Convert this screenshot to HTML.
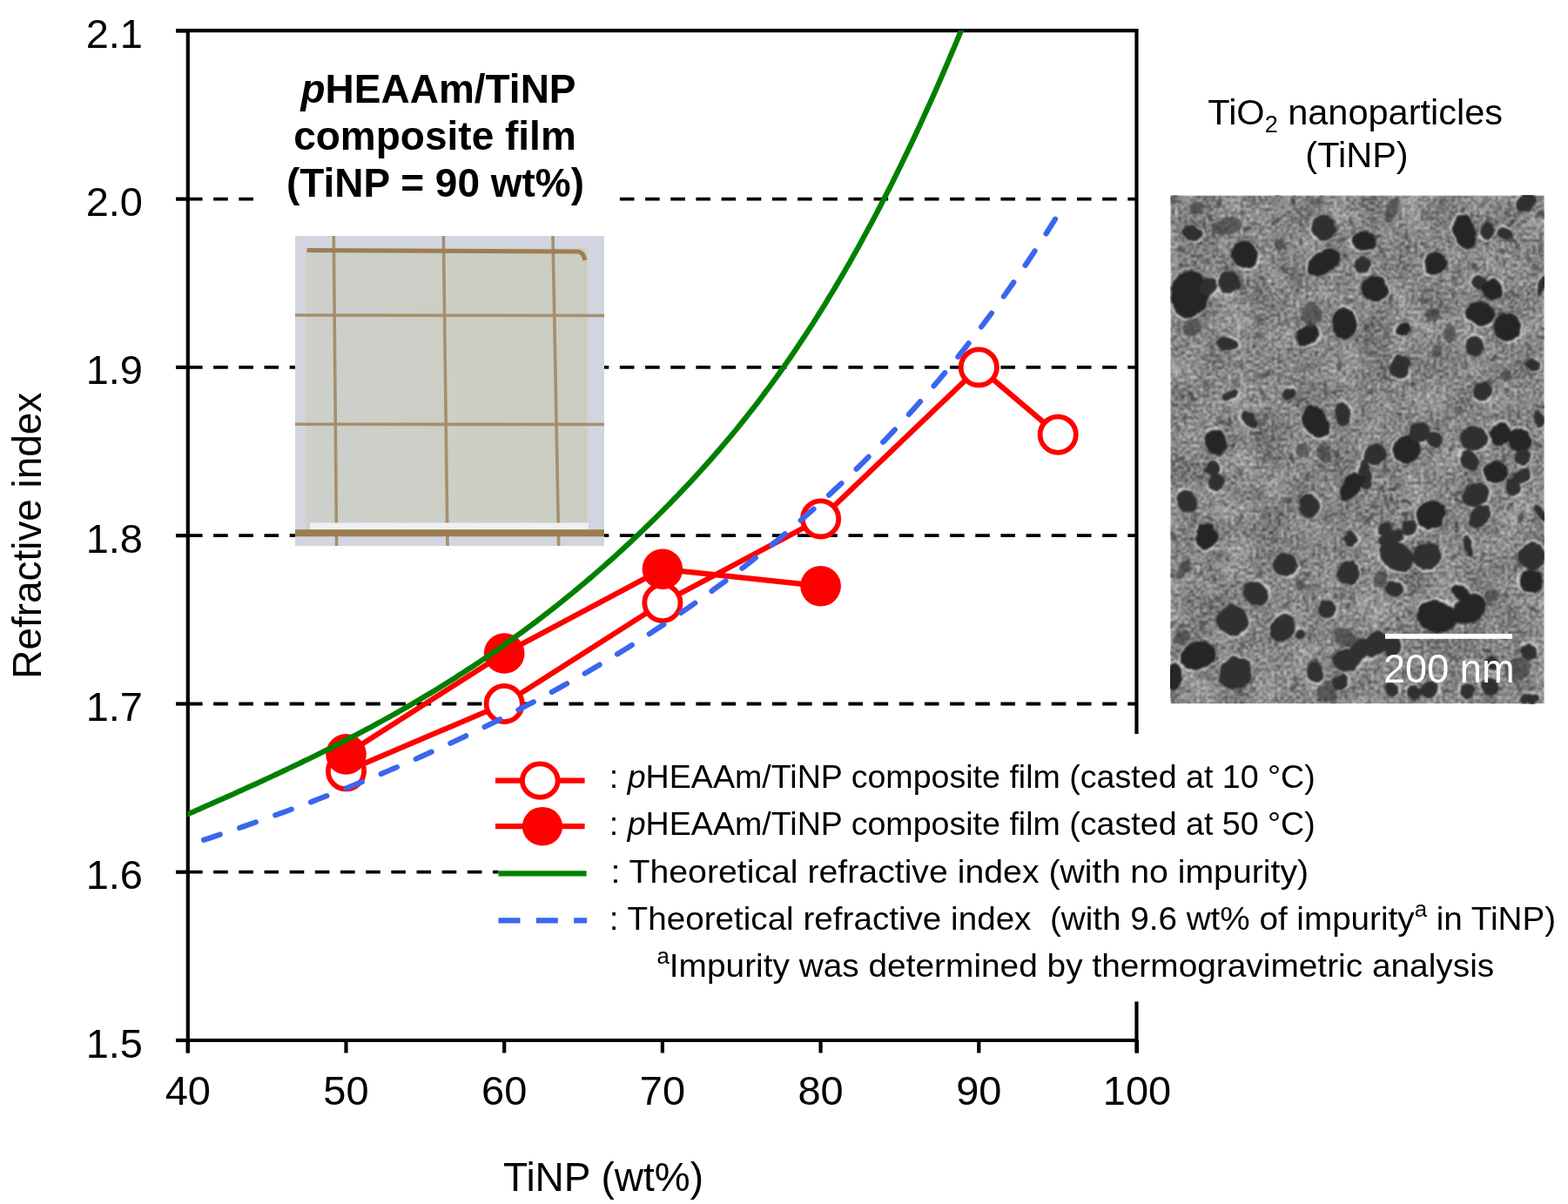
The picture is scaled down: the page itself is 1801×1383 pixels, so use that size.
<!DOCTYPE html>
<html><head><meta charset="utf-8"><title>Refractive index of pHEAAm/TiNP composite films</title>
<style>
html,body{margin:0;padding:0;background:#fff;}
body{width:1801px;height:1383px;overflow:hidden;}
svg{display:block;}
.a{font-family:"Liberation Sans",Arial,sans-serif;}
</style></head><body>
<svg width="1801" height="1383" viewBox="0 0 1801 1383">
<rect width="1801" height="1383" fill="#fff"/>
<g stroke="#000" stroke-width="3.8" stroke-dasharray="16.6 12.57" fill="none"><line x1="216" y1="1001.7" x2="1305.5" y2="1001.7" /><line x1="216" y1="808.5" x2="1305.5" y2="808.5" /><line x1="216" y1="615.2" x2="1305.5" y2="615.2" /><line x1="216" y1="421.9" x2="1305.5" y2="421.9" /><line x1="216" y1="228.6" x2="1305.5" y2="228.6" /></g>
<defs><linearGradient id="filmgrad" x1="0" y1="0" x2="1" y2="0"><stop offset="0" stop-color="#cdd0cb"/><stop offset="1" stop-color="#cacec0"/></linearGradient></defs><g>
<rect x="339" y="271" width="355" height="356" fill="#d2d5e0"/>
<rect x="351.5" y="285" width="323" height="325" rx="7" fill="url(#filmgrad)" stroke="#cfd0c6" stroke-width="1.2"/>
<g stroke="#a68f6c" stroke-width="3.6" fill="none">
<line x1="383.3" y1="271" x2="386.6" y2="627"/>
<line x1="509.4" y1="271" x2="514" y2="627"/>
<line x1="635" y1="271" x2="641.7" y2="627"/>
<line x1="339" y1="362" x2="694" y2="362.5"/>
<line x1="339" y1="487.3" x2="694" y2="487.5"/>
</g>
<rect x="356" y="600.5" width="320" height="8" fill="#eef0f3"/>
<path d="M352.5,287.4 L664,289 Q670,289.5 672,299" stroke="#9c7e54" stroke-width="5" fill="none"/>
<line x1="339" y1="612.3" x2="694" y2="612.3" stroke="#9a7d4d" stroke-width="8"/>
</g>
<rect x="298" y="70" width="405" height="175" fill="#fff"/>
<g class="a" font-weight="bold" font-size="46" text-anchor="middle" fill="#000">
<text x="503.5" y="118"><tspan font-style="italic">p</tspan>HEAAm/TiNP</text>
<text x="499.5" y="172.3">composite film</text>
<text x="500" y="226">(TiNP = 90 wt%)</text>
</g>
<g stroke="#000" stroke-width="4.2" fill="none" stroke-linecap="butt">
<path d="M202,35.2 H1305.5 V1209.5 M215.8,35.2 V1209.5 M202,1195 H1305.5"/>
<line x1="202" y1="1195" x2="215.8" y2="1195"/><line x1="202" y1="1001.7" x2="215.8" y2="1001.7"/><line x1="202" y1="808.5" x2="215.8" y2="808.5"/><line x1="202" y1="615.2" x2="215.8" y2="615.2"/><line x1="202" y1="421.9" x2="215.8" y2="421.9"/><line x1="202" y1="228.6" x2="215.8" y2="228.6"/><line x1="202" y1="35.4" x2="215.8" y2="35.4"/><line x1="215.8" y1="1195" x2="215.8" y2="1209.5"/><line x1="397.5" y1="1195" x2="397.5" y2="1209.5"/><line x1="579.2" y1="1195" x2="579.2" y2="1209.5"/><line x1="760.9" y1="1195" x2="760.9" y2="1209.5"/><line x1="942.6" y1="1195" x2="942.6" y2="1209.5"/><line x1="1124.3" y1="1195" x2="1124.3" y2="1209.5"/><line x1="1306" y1="1195" x2="1306" y2="1209.5"/>
</g>
<g fill="none" stroke="#ff0000" stroke-width="6.2" stroke-linejoin="round">
<polyline points="397.5,885.8 579.2,808.5 760.9,692.5 942.6,595.9 1124.3,421.9 1215.2,499.2"/>
</g>
<g fill="#fff" stroke="#ff0000" stroke-width="5.8"><circle cx="397.5" cy="885.8" r="20.6"/><circle cx="579.2" cy="808.5" r="20.6"/><circle cx="760.9" cy="692.5" r="20.6"/><circle cx="942.6" cy="595.9" r="20.6"/><circle cx="1124.3" cy="421.9" r="20.6"/><circle cx="1215.2" cy="499.2" r="20.6"/></g>
<g fill="none" stroke="#ff0000" stroke-width="6.2" stroke-linejoin="round">
<polyline points="397.5,866.4 579.2,750.5 760.9,653.8 942.6,673.2"/>
</g>
<g fill="#ff0000"><circle cx="397.5" cy="866.4" r="23.3"/><circle cx="579.2" cy="750.5" r="23.3"/><circle cx="760.9" cy="653.8" r="23.3"/><circle cx="942.6" cy="673.2" r="23.3"/></g>
<defs><clipPath id="plotclip"><rect x="215.3" y="35.2" width="1095" height="1160"/></clipPath></defs>
<path clip-path="url(#plotclip)" d="M205,939.8 L209,938.1 L213,936.3 L217.1,934.5 L221.1,932.8 L225.1,931 L229.1,929.3 L233.1,927.5 L237.1,925.7 L241.2,924 L245.2,922.2 L249.2,920.4 L253.2,918.6 L257.2,916.9 L261.2,915.1 L265.3,913.3 L269.3,911.5 L273.3,909.7 L277.3,907.9 L281.3,906 L285.3,904.2 L289.4,902.4 L293.4,900.6 L297.4,898.7 L301.4,896.9 L305.4,895 L309.5,893.2 L313.5,891.3 L317.5,889.4 L321.5,887.5 L325.5,885.6 L329.5,883.7 L333.6,881.8 L337.6,879.9 L341.6,878 L345.6,876.1 L349.6,874.1 L353.6,872.2 L357.7,870.2 L361.7,868.2 L365.7,866.2 L369.7,864.3 L373.7,862.2 L377.8,860.2 L381.8,858.2 L385.8,856.2 L389.8,854.1 L393.8,852.1 L397.8,850 L401.9,847.9 L405.9,845.8 L409.9,843.7 L413.9,841.6 L417.9,839.5 L421.9,837.3 L426,835.2 L430,833 L434,830.8 L438,828.6 L442,826.4 L446,824.2 L450.1,821.9 L454.1,819.7 L458.1,817.4 L462.1,815.1 L466.1,812.8 L470.2,810.5 L474.2,808.1 L478.2,805.8 L482.2,803.4 L486.2,801 L490.2,798.6 L494.3,796.2 L498.3,793.8 L502.3,791.3 L506.3,788.9 L510.3,786.4 L514.3,783.9 L518.4,781.3 L522.4,778.8 L526.4,776.2 L530.4,773.7 L534.4,771.1 L538.4,768.4 L542.5,765.8 L546.5,763.2 L550.5,760.5 L554.5,757.8 L558.5,755.1 L562.6,752.3 L566.6,749.6 L570.6,746.8 L574.6,744 L578.6,741.2 L582.6,738.3 L586.7,735.4 L590.7,732.6 L594.7,729.6 L598.7,726.7 L602.7,723.8 L606.7,720.8 L610.8,717.8 L614.8,714.7 L618.8,711.7 L622.8,708.6 L626.8,705.5 L630.9,702.4 L634.9,699.3 L638.9,696.1 L642.9,692.9 L646.9,689.7 L650.9,686.4 L655,683.1 L659,679.8 L663,676.5 L667,673.2 L671,669.8 L675,666.4 L679.1,663 L683.1,659.5 L687.1,656 L691.1,652.5 L695.1,649 L699.1,645.4 L703.2,641.8 L707.2,638.2 L711.2,634.5 L715.2,630.9 L719.2,627.1 L723.3,623.4 L727.3,619.6 L731.3,615.8 L735.3,612 L739.3,608.1 L743.3,604.3 L747.4,600.3 L751.4,596.4 L755.4,592.4 L759.4,588.4 L763.4,584.4 L767.4,580.3 L771.5,576.2 L775.5,572 L779.5,567.9 L783.5,563.6 L787.5,559.4 L791.6,555.1 L795.6,550.8 L799.6,546.4 L803.6,542 L807.6,537.6 L811.6,533.1 L815.7,528.6 L819.7,524 L823.7,519.4 L827.7,514.7 L831.7,510 L835.7,505.3 L839.8,500.5 L843.8,495.6 L847.8,490.7 L851.8,485.7 L855.8,480.7 L859.8,475.6 L863.9,470.5 L867.9,465.3 L871.9,460.1 L875.9,454.8 L879.9,449.4 L884,444 L888,438.5 L892,433 L896,427.4 L900,421.7 L904,415.9 L908.1,410.1 L912.1,404.3 L916.1,398.3 L920.1,392.3 L924.1,386.2 L928.1,380.1 L932.2,373.9 L936.2,367.6 L940.2,361.2 L944.2,354.8 L948.2,348.3 L952.2,341.7 L956.3,335 L960.3,328.3 L964.3,321.5 L968.3,314.7 L972.3,307.7 L976.4,300.7 L980.4,293.6 L984.4,286.4 L988.4,279.2 L992.4,271.8 L996.4,264.4 L1000.5,256.9 L1004.5,249.4 L1008.5,241.7 L1012.5,234 L1016.5,226.2 L1020.5,218.3 L1024.6,210.3 L1028.6,202.2 L1032.6,194.1 L1036.6,185.9 L1040.6,177.6 L1044.7,169.2 L1048.7,160.7 L1052.7,152.1 L1056.7,143.5 L1060.7,134.7 L1064.7,125.9 L1068.8,117 L1072.8,108 L1076.8,98.9 L1080.8,89.7 L1084.8,80.5 L1088.8,71.1 L1092.9,61.6 L1096.9,52.1 L1100.9,42.5 L1104.9,32.7 L1108.9,22.9" fill="none" stroke="#008000" stroke-width="6.2" stroke-linejoin="round"/>
<path d="M234,964.8 L240.6,962.7 L247.1,960.5 L253.7,958.2 L260.3,956 L266.9,953.8 L273.5,951.5 L280.1,949.2 L286.7,946.9 L293.2,944.6 L299.8,942.3 L306.4,939.9 L313,937.6 L319.6,935.2 L326.2,932.8 L332.7,930.4 L339.3,927.9 L345.9,925.4 L352.5,923 L359.1,920.5 L365.7,917.9 L372.3,915.4 L378.8,912.8 L385.4,910.3 L392,907.7 L398.6,905 L405.2,902.4 L411.8,899.7 L418.4,897 L424.9,894.3 L431.5,891.6 L438.1,888.8 L444.7,886 L451.3,883.2 L457.9,880.4 L464.4,877.6 L471,874.7 L477.6,871.8 L484.2,868.9 L490.8,865.9 L497.4,862.9 L504,859.9 L510.5,856.9 L517.1,853.9 L523.7,850.8 L530.3,847.7 L536.9,844.5 L543.5,841.4 L550.1,838.2 L556.6,835 L563.2,831.7 L569.8,828.4 L576.4,825.1 L583,821.8 L589.6,818.4 L596.2,815 L602.7,811.6 L609.3,808.1 L615.9,804.6 L622.5,801.1 L629.1,797.5 L635.7,793.9 L642.2,790.3 L648.8,786.6 L655.4,782.9 L662,779.2 L668.6,775.4 L675.2,771.6 L681.8,767.7 L688.3,763.8 L694.9,759.9 L701.5,756 L708.1,751.9 L714.7,747.9 L721.3,743.8 L727.9,739.7 L734.4,735.5 L741,731.3 L747.6,727 L754.2,722.7 L760.8,718.4 L767.4,714 L773.9,709.6 L780.5,705.1 L787.1,700.5 L793.7,696 L800.3,691.3 L806.9,686.6 L813.5,681.9 L820,677.1 L826.6,672.3 L833.2,667.4 L839.8,662.4 L846.4,657.4 L853,652.4 L859.6,647.3 L866.1,642.1 L872.7,636.9 L879.3,631.6 L885.9,626.2 L892.5,620.8 L899.1,615.3 L905.7,609.8 L912.2,604.1 L918.8,598.5 L925.4,592.7 L932,586.9 L938.6,581 L945.2,575 L951.7,569 L958.3,562.9 L964.9,556.7 L971.5,550.5 L978.1,544.1 L984.7,537.7 L991.3,531.2 L997.8,524.6 L1004.4,517.9 L1011,511.2 L1017.6,504.3 L1024.2,497.4 L1030.8,490.3 L1037.4,483.2 L1043.9,476 L1050.5,468.6 L1057.1,461.2 L1063.7,453.7 L1070.3,446.1 L1076.9,438.3 L1083.4,430.5 L1090,422.5 L1096.6,414.5 L1103.2,406.3 L1109.8,398 L1116.4,389.5 L1123,381 L1129.5,372.3 L1136.1,363.5 L1142.7,354.6 L1149.3,345.5 L1155.9,336.3 L1162.5,326.9 L1169.1,317.4 L1175.6,307.8 L1182.2,298 L1188.8,288 L1195.4,277.9 L1202,267.7 L1208.6,257.2 L1215.2,246.6" fill="none" stroke="#3a66ee" stroke-width="6.2" stroke-linecap="round" stroke-dasharray="19.7 23.8"/>
<rect x="572.5" y="843" width="753" height="307.5" fill="#fff"/>
<g class="a" font-size="47" fill="#000"><text x="164" y="1214.5" text-anchor="end">1.5</text><text x="164" y="1021.2" text-anchor="end">1.6</text><text x="164" y="828" text-anchor="end">1.7</text><text x="164" y="634.7" text-anchor="end">1.8</text><text x="164" y="441.4" text-anchor="end">1.9</text><text x="164" y="248.1" text-anchor="end">2.0</text><text x="164" y="54.9" text-anchor="end">2.1</text><text x="215.8" y="1268.8" text-anchor="middle">40</text><text x="397.5" y="1268.8" text-anchor="middle">50</text><text x="579.2" y="1268.8" text-anchor="middle">60</text><text x="760.9" y="1268.8" text-anchor="middle">70</text><text x="942.6" y="1268.8" text-anchor="middle">80</text><text x="1124.3" y="1268.8" text-anchor="middle">90</text><text x="1306" y="1268.8" text-anchor="middle">100</text>
<text x="693" y="1368" text-anchor="middle" font-size="46">TiNP (wt%)</text>
<text transform="translate(47.1,615.2) rotate(-90)" text-anchor="middle" font-size="47" textLength="329" lengthAdjust="spacingAndGlyphs">Refractive index</text>
</g>
<g class="a" font-size="41.5" fill="#000" text-anchor="middle">
<text x="1556.7" y="142.6">TiO<tspan font-size="27" dy="9">2</tspan><tspan dy="-9"> nanoparticles</tspan></text>
<text x="1558.5" y="192.4">(TiNP)</text>
</g>
<defs>
<clipPath id="temclip"><rect x="1344.3" y="224.4" width="429.5" height="583.9"/></clipPath>
<filter id="tex" x="0" y="0" width="100%" height="100%" color-interpolation-filters="sRGB">
<feTurbulence type="fractalNoise" baseFrequency="0.28" numOctaves="2" seed="11" result="t1"/>
<feColorMatrix in="t1" type="matrix" values="0.85 0 0 0 -0.025  0.85 0 0 0 -0.025  0.85 0 0 0 -0.025  0 0 0 0 1" result="a"/>
<feTurbulence type="fractalNoise" baseFrequency="0.025" numOctaves="2" seed="5" result="t2"/>
<feColorMatrix in="t2" type="matrix" values="0.26 0 0 0 0  0.26 0 0 0 0  0.26 0 0 0 0  0 0 0 0 1" result="b"/>
<feComposite in="a" in2="b" operator="arithmetic" k1="0" k2="1" k3="1" k4="0"/>
<feGaussianBlur stdDeviation="0.9"/>
</filter>
<filter id="tblur" x="-5%" y="-5%" width="110%" height="110%"><feTurbulence type="fractalNoise" baseFrequency="0.09" numOctaves="2" seed="3" result="dn"/><feDisplacementMap in="SourceGraphic" in2="dn" scale="6" xChannelSelector="R" yChannelSelector="G"/><feGaussianBlur stdDeviation="1.2"/></filter>
<filter id="tblur2" x="-5%" y="-5%" width="110%" height="110%"><feTurbulence type="fractalNoise" baseFrequency="0.09" numOctaves="2" seed="3" result="dn"/><feDisplacementMap in="SourceGraphic" in2="dn" scale="6" xChannelSelector="R" yChannelSelector="G"/><feGaussianBlur stdDeviation="0.9"/></filter>
</defs>
<g clip-path="url(#temclip)">
<rect x="1344.3" y="224.4" width="429.5" height="583.9" fill="#888" filter="url(#tex)"/>
<g filter="url(#tblur2)" opacity="0.7"><ellipse cx="1447.6" cy="566.8" rx="1.5" ry="5.1" fill="#454545" transform="rotate(11 1447.6 566.8)"/><ellipse cx="1662.1" cy="748.6" rx="2.1" ry="7.1" fill="#5a5a5a" transform="rotate(149 1662.1 748.6)"/><ellipse cx="1721.5" cy="300.8" rx="1.4" ry="5.6" fill="#5a5a5a" transform="rotate(140 1721.5 300.8)"/><ellipse cx="1605.7" cy="677.5" rx="1.4" ry="3.7" fill="#3a3a3a" transform="rotate(100 1605.7 677.5)"/><ellipse cx="1484.3" cy="527.1" rx="1.9" ry="6.9" fill="#3a3a3a" transform="rotate(159 1484.3 527.1)"/><ellipse cx="1368.7" cy="336.1" rx="1.3" ry="3.5" fill="#5a5a5a" transform="rotate(101 1368.7 336.1)"/><ellipse cx="1670.7" cy="757.2" rx="1.8" ry="6.1" fill="#454545" transform="rotate(125 1670.7 757.2)"/><ellipse cx="1538.6" cy="535.8" rx="1.8" ry="7.7" fill="#505050" transform="rotate(166 1538.6 535.8)"/><ellipse cx="1727.7" cy="342.7" rx="1.8" ry="5.1" fill="#5a5a5a" transform="rotate(80 1727.7 342.7)"/><ellipse cx="1375.5" cy="364.9" rx="1.3" ry="6.3" fill="#3a3a3a" transform="rotate(161 1375.5 364.9)"/><ellipse cx="1410.6" cy="642.5" rx="2.1" ry="3.7" fill="#454545" transform="rotate(174 1410.6 642.5)"/><ellipse cx="1438.6" cy="780.6" rx="1.7" ry="5.4" fill="#454545" transform="rotate(29 1438.6 780.6)"/><ellipse cx="1529.6" cy="525.5" rx="1.6" ry="4.0" fill="#505050" transform="rotate(17 1529.6 525.5)"/><ellipse cx="1501.5" cy="421.7" rx="1.8" ry="6.5" fill="#5a5a5a" transform="rotate(60 1501.5 421.7)"/><ellipse cx="1612.3" cy="523.5" rx="1.3" ry="7.9" fill="#454545" transform="rotate(175 1612.3 523.5)"/><ellipse cx="1389.3" cy="379.5" rx="1.3" ry="6.9" fill="#505050" transform="rotate(136 1389.3 379.5)"/><ellipse cx="1696.4" cy="720.5" rx="2.1" ry="7.7" fill="#5a5a5a" transform="rotate(27 1696.4 720.5)"/><ellipse cx="1739.1" cy="557.6" rx="2.1" ry="3.4" fill="#3a3a3a" transform="rotate(144 1739.1 557.6)"/><ellipse cx="1423.0" cy="747.2" rx="1.5" ry="3.1" fill="#3a3a3a" transform="rotate(144 1423.0 747.2)"/><ellipse cx="1380.3" cy="724.4" rx="1.3" ry="7.3" fill="#5a5a5a" transform="rotate(2 1380.3 724.4)"/><ellipse cx="1771.4" cy="468.3" rx="2.4" ry="6.1" fill="#3a3a3a" transform="rotate(95 1771.4 468.3)"/><ellipse cx="1446.7" cy="288.3" rx="1.4" ry="3.3" fill="#454545" transform="rotate(168 1446.7 288.3)"/><ellipse cx="1614.3" cy="534.5" rx="1.5" ry="5.2" fill="#454545" transform="rotate(49 1614.3 534.5)"/><ellipse cx="1689.5" cy="805.1" rx="1.2" ry="3.1" fill="#454545" transform="rotate(93 1689.5 805.1)"/><ellipse cx="1449.8" cy="485.4" rx="2.1" ry="6.3" fill="#5a5a5a" transform="rotate(98 1449.8 485.4)"/><ellipse cx="1726.0" cy="791.0" rx="1.6" ry="4.1" fill="#454545" transform="rotate(62 1726.0 791.0)"/><ellipse cx="1701.8" cy="637.1" rx="2.0" ry="5.0" fill="#505050" transform="rotate(177 1701.8 637.1)"/><ellipse cx="1703.8" cy="232.7" rx="2.0" ry="7.4" fill="#5a5a5a" transform="rotate(29 1703.8 232.7)"/><ellipse cx="1380.6" cy="715.6" rx="2.3" ry="6.4" fill="#505050" transform="rotate(108 1380.6 715.6)"/><ellipse cx="1641.8" cy="250.8" rx="1.4" ry="4.3" fill="#3a3a3a" transform="rotate(47 1641.8 250.8)"/><ellipse cx="1757.4" cy="792.3" rx="1.9" ry="4.2" fill="#505050" transform="rotate(39 1757.4 792.3)"/><ellipse cx="1422.9" cy="420.2" rx="1.3" ry="4.4" fill="#454545" transform="rotate(45 1422.9 420.2)"/><ellipse cx="1677.7" cy="277.4" rx="2.3" ry="3.7" fill="#3a3a3a" transform="rotate(71 1677.7 277.4)"/><ellipse cx="1473.0" cy="592.1" rx="1.3" ry="7.8" fill="#454545" transform="rotate(118 1473.0 592.1)"/><ellipse cx="1651.8" cy="737.7" rx="1.7" ry="4.6" fill="#5a5a5a" transform="rotate(27 1651.8 737.7)"/><ellipse cx="1655.3" cy="600.0" rx="1.3" ry="7.2" fill="#5a5a5a" transform="rotate(132 1655.3 600.0)"/><ellipse cx="1693.1" cy="305.7" rx="1.9" ry="5.5" fill="#3a3a3a" transform="rotate(149 1693.1 305.7)"/><ellipse cx="1595.2" cy="745.7" rx="2.1" ry="6.5" fill="#454545" transform="rotate(15 1595.2 745.7)"/><ellipse cx="1362.3" cy="596.4" rx="2.4" ry="4.9" fill="#5a5a5a" transform="rotate(101 1362.3 596.4)"/><ellipse cx="1613.9" cy="590.1" rx="2.1" ry="5.4" fill="#3a3a3a" transform="rotate(82 1613.9 590.1)"/><ellipse cx="1374.4" cy="768.9" rx="2.4" ry="3.5" fill="#3a3a3a" transform="rotate(134 1374.4 768.9)"/><ellipse cx="1547.8" cy="696.9" rx="2.3" ry="4.2" fill="#454545" transform="rotate(42 1547.8 696.9)"/><ellipse cx="1623.4" cy="493.2" rx="2.3" ry="3.4" fill="#505050" transform="rotate(138 1623.4 493.2)"/><ellipse cx="1609.3" cy="599.7" rx="1.3" ry="3.7" fill="#505050" transform="rotate(117 1609.3 599.7)"/><ellipse cx="1641.9" cy="587.1" rx="1.4" ry="5.4" fill="#5a5a5a" transform="rotate(48 1641.9 587.1)"/><ellipse cx="1632.9" cy="628.6" rx="2.1" ry="4.5" fill="#505050" transform="rotate(84 1632.9 628.6)"/><ellipse cx="1544.6" cy="293.6" rx="2.4" ry="4.0" fill="#3a3a3a" transform="rotate(169 1544.6 293.6)"/><ellipse cx="1351.8" cy="492.4" rx="2.3" ry="7.8" fill="#5a5a5a" transform="rotate(179 1351.8 492.4)"/><ellipse cx="1510.5" cy="759.6" rx="2.4" ry="3.4" fill="#3a3a3a" transform="rotate(26 1510.5 759.6)"/><ellipse cx="1569.4" cy="780.7" rx="1.4" ry="7.1" fill="#505050" transform="rotate(160 1569.4 780.7)"/><ellipse cx="1646.4" cy="359.5" rx="2.4" ry="5.4" fill="#3a3a3a" transform="rotate(29 1646.4 359.5)"/><ellipse cx="1752.3" cy="622.4" rx="1.7" ry="6.6" fill="#5a5a5a" transform="rotate(62 1752.3 622.4)"/><ellipse cx="1480.1" cy="715.0" rx="1.2" ry="6.8" fill="#5a5a5a" transform="rotate(22 1480.1 715.0)"/><ellipse cx="1742.2" cy="640.7" rx="2.4" ry="4.4" fill="#505050" transform="rotate(12 1742.2 640.7)"/><ellipse cx="1511.9" cy="732.4" rx="1.3" ry="7.6" fill="#505050" transform="rotate(154 1511.9 732.4)"/><ellipse cx="1464.8" cy="254.5" rx="2.1" ry="6.2" fill="#454545" transform="rotate(45 1464.8 254.5)"/><ellipse cx="1458.4" cy="522.8" rx="1.4" ry="4.9" fill="#5a5a5a" transform="rotate(159 1458.4 522.8)"/><ellipse cx="1693.0" cy="592.8" rx="2.4" ry="7.7" fill="#454545" transform="rotate(130 1693.0 592.8)"/><ellipse cx="1365.5" cy="652.0" rx="1.8" ry="6.8" fill="#505050" transform="rotate(87 1365.5 652.0)"/><ellipse cx="1736.0" cy="545.6" rx="1.4" ry="5.1" fill="#505050" transform="rotate(54 1736.0 545.6)"/><ellipse cx="1661.7" cy="794.5" rx="1.5" ry="6.3" fill="#505050" transform="rotate(87 1661.7 794.5)"/><ellipse cx="1631.6" cy="294.3" rx="2.0" ry="3.4" fill="#5a5a5a" transform="rotate(99 1631.6 294.3)"/><ellipse cx="1538.9" cy="418.7" rx="2.2" ry="5.1" fill="#454545" transform="rotate(44 1538.9 418.7)"/><ellipse cx="1419.3" cy="549.0" rx="1.6" ry="4.8" fill="#454545" transform="rotate(160 1419.3 549.0)"/><ellipse cx="1666.3" cy="465.4" rx="1.7" ry="5.6" fill="#5a5a5a" transform="rotate(49 1666.3 465.4)"/><ellipse cx="1667.3" cy="515.3" rx="1.9" ry="4.8" fill="#454545" transform="rotate(17 1667.3 515.3)"/><ellipse cx="1729.5" cy="448.9" rx="2.0" ry="5.2" fill="#505050" transform="rotate(153 1729.5 448.9)"/><ellipse cx="1719.2" cy="237.1" rx="1.2" ry="6.5" fill="#5a5a5a" transform="rotate(174 1719.2 237.1)"/><ellipse cx="1554.7" cy="267.1" rx="2.4" ry="7.6" fill="#5a5a5a" transform="rotate(175 1554.7 267.1)"/><ellipse cx="1451.0" cy="288.1" rx="1.4" ry="5.6" fill="#3a3a3a" transform="rotate(169 1451.0 288.1)"/><ellipse cx="1654.3" cy="602.4" rx="2.2" ry="5.3" fill="#3a3a3a" transform="rotate(0 1654.3 602.4)"/><ellipse cx="1398.3" cy="556.9" rx="1.2" ry="6.6" fill="#454545" transform="rotate(113 1398.3 556.9)"/><ellipse cx="1571.2" cy="479.8" rx="2.2" ry="3.5" fill="#505050" transform="rotate(94 1571.2 479.8)"/><ellipse cx="1594.7" cy="451.0" rx="1.5" ry="6.0" fill="#3a3a3a" transform="rotate(97 1594.7 451.0)"/><ellipse cx="1772.2" cy="387.1" rx="1.6" ry="7.2" fill="#454545" transform="rotate(86 1772.2 387.1)"/><ellipse cx="1445.1" cy="368.7" rx="2.4" ry="6.5" fill="#505050" transform="rotate(10 1445.1 368.7)"/><ellipse cx="1427.7" cy="741.1" rx="2.0" ry="3.4" fill="#454545" transform="rotate(120 1427.7 741.1)"/><ellipse cx="1741.7" cy="356.8" rx="1.2" ry="4.7" fill="#5a5a5a" transform="rotate(65 1741.7 356.8)"/><ellipse cx="1514.5" cy="228.3" rx="1.6" ry="7.2" fill="#3a3a3a" transform="rotate(37 1514.5 228.3)"/><ellipse cx="1760.9" cy="406.4" rx="2.3" ry="4.2" fill="#454545" transform="rotate(48 1760.9 406.4)"/><ellipse cx="1726.3" cy="288.0" rx="2.0" ry="6.1" fill="#454545" transform="rotate(87 1726.3 288.0)"/><ellipse cx="1735.3" cy="257.3" rx="2.0" ry="7.6" fill="#3a3a3a" transform="rotate(38 1735.3 257.3)"/><ellipse cx="1762.7" cy="307.3" rx="1.3" ry="3.3" fill="#5a5a5a" transform="rotate(81 1762.7 307.3)"/><ellipse cx="1650.1" cy="407.9" rx="1.3" ry="3.4" fill="#454545" transform="rotate(59 1650.1 407.9)"/><ellipse cx="1424.0" cy="770.9" rx="2.2" ry="3.2" fill="#5a5a5a" transform="rotate(151 1424.0 770.9)"/><ellipse cx="1767.4" cy="482.7" rx="1.3" ry="3.4" fill="#3a3a3a" transform="rotate(63 1767.4 482.7)"/><ellipse cx="1754.7" cy="296.6" rx="2.5" ry="4.0" fill="#505050" transform="rotate(138 1754.7 296.6)"/><ellipse cx="1476.9" cy="693.8" rx="1.3" ry="6.5" fill="#454545" transform="rotate(67 1476.9 693.8)"/><ellipse cx="1739.2" cy="337.1" rx="1.7" ry="7.5" fill="#3a3a3a" transform="rotate(114 1739.2 337.1)"/><ellipse cx="1450.8" cy="589.6" rx="1.7" ry="4.9" fill="#5a5a5a" transform="rotate(11 1450.8 589.6)"/><ellipse cx="1739.5" cy="374.5" rx="2.2" ry="7.5" fill="#505050" transform="rotate(65 1739.5 374.5)"/><ellipse cx="1488.2" cy="781.3" rx="1.3" ry="6.7" fill="#505050" transform="rotate(166 1488.2 781.3)"/><ellipse cx="1472.0" cy="645.7" rx="2.0" ry="7.0" fill="#3a3a3a" transform="rotate(4 1472.0 645.7)"/><ellipse cx="1444.7" cy="501.9" rx="2.4" ry="7.8" fill="#5a5a5a" transform="rotate(142 1444.7 501.9)"/><ellipse cx="1736.7" cy="700.2" rx="1.4" ry="5.5" fill="#3a3a3a" transform="rotate(144 1736.7 700.2)"/><ellipse cx="1661.5" cy="704.8" rx="2.2" ry="6.0" fill="#505050" transform="rotate(155 1661.5 704.8)"/><ellipse cx="1542.2" cy="682.1" rx="2.0" ry="5.6" fill="#5a5a5a" transform="rotate(136 1542.2 682.1)"/><ellipse cx="1450.5" cy="262.2" rx="1.2" ry="5.8" fill="#505050" transform="rotate(29 1450.5 262.2)"/><ellipse cx="1527.5" cy="285.8" rx="1.3" ry="6.1" fill="#454545" transform="rotate(17 1527.5 285.8)"/><ellipse cx="1558.4" cy="638.8" rx="1.8" ry="4.2" fill="#5a5a5a" transform="rotate(83 1558.4 638.8)"/><ellipse cx="1727.1" cy="361.6" rx="1.9" ry="6.9" fill="#3a3a3a" transform="rotate(140 1727.1 361.6)"/><ellipse cx="1470.5" cy="387.5" rx="1.5" ry="4.3" fill="#505050" transform="rotate(36 1470.5 387.5)"/><ellipse cx="1450.6" cy="367.7" rx="1.4" ry="7.4" fill="#454545" transform="rotate(59 1450.6 367.7)"/><ellipse cx="1514.4" cy="803.9" rx="1.9" ry="4.2" fill="#3a3a3a" transform="rotate(118 1514.4 803.9)"/><ellipse cx="1769.9" cy="284.2" rx="1.8" ry="7.1" fill="#5a5a5a" transform="rotate(165 1769.9 284.2)"/><ellipse cx="1361.6" cy="395.9" rx="1.4" ry="3.9" fill="#454545" transform="rotate(167 1361.6 395.9)"/><ellipse cx="1504.2" cy="730.1" rx="1.8" ry="4.3" fill="#3a3a3a" transform="rotate(19 1504.2 730.1)"/><ellipse cx="1600.3" cy="586.4" rx="1.5" ry="4.8" fill="#454545" transform="rotate(8 1600.3 586.4)"/><ellipse cx="1773.7" cy="246.7" rx="2.2" ry="7.6" fill="#3a3a3a" transform="rotate(147 1773.7 246.7)"/><ellipse cx="1520.0" cy="441.5" rx="2.0" ry="3.4" fill="#3a3a3a" transform="rotate(143 1520.0 441.5)"/><ellipse cx="1579.7" cy="261.3" rx="1.3" ry="5.0" fill="#454545" transform="rotate(115 1579.7 261.3)"/><ellipse cx="1383.5" cy="320.0" rx="2.1" ry="5.0" fill="#505050" transform="rotate(120 1383.5 320.0)"/><ellipse cx="1523.8" cy="254.4" rx="2.2" ry="7.4" fill="#5a5a5a" transform="rotate(75 1523.8 254.4)"/><ellipse cx="1715.5" cy="806.3" rx="1.7" ry="4.0" fill="#5a5a5a" transform="rotate(37 1715.5 806.3)"/><ellipse cx="1346.8" cy="750.9" rx="1.8" ry="7.1" fill="#5a5a5a" transform="rotate(104 1346.8 750.9)"/><ellipse cx="1501.0" cy="675.8" rx="1.4" ry="3.3" fill="#454545" transform="rotate(115 1501.0 675.8)"/><ellipse cx="1735.1" cy="276.4" rx="2.0" ry="4.9" fill="#454545" transform="rotate(26 1735.1 276.4)"/><ellipse cx="1466.0" cy="528.7" rx="2.4" ry="3.5" fill="#5a5a5a" transform="rotate(136 1466.0 528.7)"/><ellipse cx="1684.5" cy="694.3" rx="1.6" ry="7.2" fill="#3a3a3a" transform="rotate(176 1684.5 694.3)"/><ellipse cx="1551.6" cy="255.6" rx="2.4" ry="4.9" fill="#454545" transform="rotate(115 1551.6 255.6)"/><ellipse cx="1712.2" cy="587.0" rx="2.0" ry="4.0" fill="#5a5a5a" transform="rotate(33 1712.2 587.0)"/><ellipse cx="1438.0" cy="457.8" rx="1.9" ry="4.9" fill="#3a3a3a" transform="rotate(27 1438.0 457.8)"/><ellipse cx="1761.2" cy="700.7" rx="1.5" ry="7.4" fill="#3a3a3a" transform="rotate(120 1761.2 700.7)"/><ellipse cx="1483.5" cy="452.0" rx="1.8" ry="7.2" fill="#505050" transform="rotate(117 1483.5 452.0)"/><ellipse cx="1476.7" cy="369.9" rx="1.7" ry="4.8" fill="#5a5a5a" transform="rotate(32 1476.7 369.9)"/><ellipse cx="1345.8" cy="800.2" rx="1.8" ry="5.2" fill="#5a5a5a" transform="rotate(151 1345.8 800.2)"/><ellipse cx="1692.4" cy="458.2" rx="1.3" ry="4.8" fill="#505050" transform="rotate(17 1692.4 458.2)"/><ellipse cx="1534.1" cy="522.3" rx="1.3" ry="6.2" fill="#3a3a3a" transform="rotate(166 1534.1 522.3)"/><ellipse cx="1479.0" cy="645.0" rx="1.3" ry="6.8" fill="#5a5a5a" transform="rotate(117 1479.0 645.0)"/><ellipse cx="1681.1" cy="239.5" rx="1.3" ry="6.1" fill="#3a3a3a" transform="rotate(35 1681.1 239.5)"/><ellipse cx="1766.0" cy="511.6" rx="2.4" ry="7.6" fill="#454545" transform="rotate(124 1766.0 511.6)"/><ellipse cx="1654.0" cy="353.5" rx="2.3" ry="6.1" fill="#505050" transform="rotate(29 1654.0 353.5)"/><ellipse cx="1729.4" cy="385.0" rx="2.3" ry="3.7" fill="#5a5a5a" transform="rotate(37 1729.4 385.0)"/><ellipse cx="1457.2" cy="519.9" rx="1.6" ry="3.2" fill="#454545" transform="rotate(73 1457.2 519.9)"/><ellipse cx="1617.7" cy="386.8" rx="1.6" ry="4.9" fill="#505050" transform="rotate(21 1617.7 386.8)"/><ellipse cx="1572.2" cy="595.9" rx="1.7" ry="7.4" fill="#3a3a3a" transform="rotate(45 1572.2 595.9)"/><ellipse cx="1574.4" cy="724.6" rx="2.2" ry="4.9" fill="#5a5a5a" transform="rotate(178 1574.4 724.6)"/><ellipse cx="1592.3" cy="434.8" rx="2.2" ry="5.2" fill="#454545" transform="rotate(111 1592.3 434.8)"/><ellipse cx="1755.8" cy="397.5" rx="1.9" ry="4.6" fill="#505050" transform="rotate(132 1755.8 397.5)"/><ellipse cx="1665.2" cy="353.8" rx="1.6" ry="6.1" fill="#5a5a5a" transform="rotate(92 1665.2 353.8)"/><ellipse cx="1728.9" cy="301.5" rx="1.5" ry="6.3" fill="#3a3a3a" transform="rotate(10 1728.9 301.5)"/><ellipse cx="1587.9" cy="401.8" rx="1.9" ry="5.7" fill="#5a5a5a" transform="rotate(105 1587.9 401.8)"/><ellipse cx="1597.3" cy="343.6" rx="2.0" ry="5.4" fill="#454545" transform="rotate(3 1597.3 343.6)"/><ellipse cx="1688.5" cy="637.5" rx="1.8" ry="3.3" fill="#454545" transform="rotate(157 1688.5 637.5)"/><ellipse cx="1680.2" cy="459.1" rx="1.5" ry="3.1" fill="#505050" transform="rotate(107 1680.2 459.1)"/><ellipse cx="1592.8" cy="575.8" rx="1.9" ry="5.5" fill="#454545" transform="rotate(163 1592.8 575.8)"/><ellipse cx="1363.2" cy="534.8" rx="1.7" ry="4.2" fill="#3a3a3a" transform="rotate(164 1363.2 534.8)"/><ellipse cx="1389.4" cy="582.1" rx="2.1" ry="4.0" fill="#5a5a5a" transform="rotate(36 1389.4 582.1)"/><ellipse cx="1605.5" cy="520.4" rx="2.0" ry="7.1" fill="#454545" transform="rotate(92 1605.5 520.4)"/><ellipse cx="1371.7" cy="589.9" rx="2.5" ry="6.6" fill="#5a5a5a" transform="rotate(129 1371.7 589.9)"/><ellipse cx="1347.0" cy="717.5" rx="2.2" ry="5.3" fill="#5a5a5a" transform="rotate(32 1347.0 717.5)"/><ellipse cx="1772.3" cy="377.0" rx="2.0" ry="3.6" fill="#505050" transform="rotate(128 1772.3 377.0)"/><ellipse cx="1458.5" cy="547.8" rx="1.8" ry="6.9" fill="#505050" transform="rotate(53 1458.5 547.8)"/><ellipse cx="1743.1" cy="746.5" rx="1.3" ry="5.5" fill="#454545" transform="rotate(47 1743.1 746.5)"/><ellipse cx="1445.7" cy="658.8" rx="2.4" ry="6.7" fill="#505050" transform="rotate(35 1445.7 658.8)"/><ellipse cx="1511.2" cy="575.5" rx="1.7" ry="7.3" fill="#5a5a5a" transform="rotate(85 1511.2 575.5)"/><ellipse cx="1572.2" cy="228.1" rx="1.2" ry="7.8" fill="#454545" transform="rotate(103 1572.2 228.1)"/><ellipse cx="1476.5" cy="348.2" rx="2.0" ry="3.4" fill="#454545" transform="rotate(26 1476.5 348.2)"/><ellipse cx="1355.9" cy="286.7" rx="2.4" ry="4.7" fill="#454545" transform="rotate(126 1355.9 286.7)"/><ellipse cx="1357.6" cy="305.2" rx="2.0" ry="3.2" fill="#3a3a3a" transform="rotate(133 1357.6 305.2)"/><ellipse cx="1372.5" cy="569.2" rx="1.7" ry="7.1" fill="#3a3a3a" transform="rotate(158 1372.5 569.2)"/><ellipse cx="1668.9" cy="639.7" rx="1.7" ry="4.2" fill="#454545" transform="rotate(20 1668.9 639.7)"/><ellipse cx="1359.1" cy="719.4" rx="2.3" ry="6.2" fill="#505050" transform="rotate(86 1359.1 719.4)"/><ellipse cx="1401.3" cy="686.8" rx="2.0" ry="4.5" fill="#505050" transform="rotate(76 1401.3 686.8)"/><ellipse cx="1353.3" cy="374.3" rx="1.6" ry="6.6" fill="#505050" transform="rotate(164 1353.3 374.3)"/><ellipse cx="1674.7" cy="575.9" rx="1.8" ry="4.4" fill="#3a3a3a" transform="rotate(142 1674.7 575.9)"/><ellipse cx="1357.7" cy="527.2" rx="1.3" ry="5.3" fill="#3a3a3a" transform="rotate(97 1357.7 527.2)"/><ellipse cx="1437.3" cy="727.9" rx="1.3" ry="7.1" fill="#454545" transform="rotate(78 1437.3 727.9)"/><ellipse cx="1569.2" cy="392.8" rx="2.2" ry="3.3" fill="#505050" transform="rotate(88 1569.2 392.8)"/><ellipse cx="1555.4" cy="689.6" rx="1.4" ry="5.5" fill="#505050" transform="rotate(172 1555.4 689.6)"/><ellipse cx="1565.6" cy="561.9" rx="1.4" ry="7.1" fill="#454545" transform="rotate(90 1565.6 561.9)"/><ellipse cx="1391.5" cy="596.1" rx="1.3" ry="6.9" fill="#3a3a3a" transform="rotate(113 1391.5 596.1)"/><ellipse cx="1497.0" cy="458.7" rx="1.7" ry="7.5" fill="#3a3a3a" transform="rotate(76 1497.0 458.7)"/><ellipse cx="1621.7" cy="441.6" rx="1.6" ry="5.1" fill="#454545" transform="rotate(68 1621.7 441.6)"/><ellipse cx="1724.0" cy="360.8" rx="1.8" ry="5.7" fill="#3a3a3a" transform="rotate(63 1724.0 360.8)"/><ellipse cx="1484.6" cy="315.1" rx="2.3" ry="6.3" fill="#505050" transform="rotate(31 1484.6 315.1)"/><ellipse cx="1532.8" cy="676.0" rx="2.0" ry="3.6" fill="#5a5a5a" transform="rotate(116 1532.8 676.0)"/><ellipse cx="1643.5" cy="520.8" rx="1.5" ry="6.8" fill="#454545" transform="rotate(130 1643.5 520.8)"/><ellipse cx="1763.0" cy="646.7" rx="2.0" ry="4.7" fill="#454545" transform="rotate(59 1763.0 646.7)"/><ellipse cx="1425.6" cy="793.8" rx="2.1" ry="3.5" fill="#3a3a3a" transform="rotate(35 1425.6 793.8)"/><ellipse cx="1409.1" cy="311.0" rx="1.6" ry="4.5" fill="#505050" transform="rotate(35 1409.1 311.0)"/><ellipse cx="1618.3" cy="286.8" rx="1.5" ry="4.9" fill="#3a3a3a" transform="rotate(2 1618.3 286.8)"/><ellipse cx="1711.2" cy="479.3" rx="1.5" ry="7.9" fill="#505050" transform="rotate(83 1711.2 479.3)"/><ellipse cx="1405.2" cy="576.9" rx="1.7" ry="6.7" fill="#5a5a5a" transform="rotate(126 1405.2 576.9)"/><ellipse cx="1596.6" cy="602.3" rx="2.3" ry="6.3" fill="#454545" transform="rotate(122 1596.6 602.3)"/><ellipse cx="1619.8" cy="489.4" rx="1.6" ry="6.1" fill="#3a3a3a" transform="rotate(161 1619.8 489.4)"/><ellipse cx="1448.4" cy="458.0" rx="2.1" ry="3.8" fill="#5a5a5a" transform="rotate(87 1448.4 458.0)"/><ellipse cx="1352.7" cy="725.7" rx="1.9" ry="6.3" fill="#454545" transform="rotate(161 1352.7 725.7)"/><ellipse cx="1485.2" cy="230.6" rx="2.3" ry="7.5" fill="#3a3a3a" transform="rotate(7 1485.2 230.6)"/><ellipse cx="1577.7" cy="318.3" rx="2.2" ry="7.7" fill="#505050" transform="rotate(18 1577.7 318.3)"/><ellipse cx="1591.1" cy="540.3" rx="2.1" ry="5.6" fill="#505050" transform="rotate(94 1591.1 540.3)"/><ellipse cx="1520.5" cy="777.9" rx="1.5" ry="6.4" fill="#5a5a5a" transform="rotate(92 1520.5 777.9)"/><ellipse cx="1744.9" cy="650.1" rx="2.0" ry="6.2" fill="#505050" transform="rotate(49 1744.9 650.1)"/><ellipse cx="1516.0" cy="232.2" rx="1.7" ry="5.1" fill="#505050" transform="rotate(104 1516.0 232.2)"/><ellipse cx="1391.2" cy="401.6" rx="1.7" ry="7.8" fill="#454545" transform="rotate(179 1391.2 401.6)"/><ellipse cx="1757.0" cy="494.2" rx="1.4" ry="7.6" fill="#3a3a3a" transform="rotate(146 1757.0 494.2)"/><ellipse cx="1616.7" cy="498.3" rx="1.9" ry="4.1" fill="#454545" transform="rotate(64 1616.7 498.3)"/><ellipse cx="1618.7" cy="702.5" rx="2.3" ry="5.3" fill="#505050" transform="rotate(137 1618.7 702.5)"/><ellipse cx="1623.3" cy="679.8" rx="1.8" ry="6.9" fill="#454545" transform="rotate(48 1623.3 679.8)"/><ellipse cx="1505.9" cy="372.4" rx="1.8" ry="3.9" fill="#3a3a3a" transform="rotate(145 1505.9 372.4)"/><ellipse cx="1687.4" cy="433.4" rx="2.1" ry="4.6" fill="#5a5a5a" transform="rotate(77 1687.4 433.4)"/><ellipse cx="1618.0" cy="609.3" rx="1.7" ry="7.6" fill="#5a5a5a" transform="rotate(10 1618.0 609.3)"/><ellipse cx="1699.9" cy="753.3" rx="2.2" ry="3.7" fill="#505050" transform="rotate(114 1699.9 753.3)"/><ellipse cx="1350.7" cy="231.1" rx="2.4" ry="6.3" fill="#505050" transform="rotate(109 1350.7 231.1)"/><ellipse cx="1592.8" cy="723.2" rx="1.4" ry="5.3" fill="#454545" transform="rotate(38 1592.8 723.2)"/><ellipse cx="1517.2" cy="536.5" rx="2.0" ry="6.4" fill="#3a3a3a" transform="rotate(120 1517.2 536.5)"/><ellipse cx="1728.2" cy="684.6" rx="2.3" ry="4.0" fill="#454545" transform="rotate(96 1728.2 684.6)"/><ellipse cx="1663.0" cy="480.5" rx="2.3" ry="5.8" fill="#505050" transform="rotate(75 1663.0 480.5)"/><ellipse cx="1699.5" cy="500.7" rx="1.9" ry="5.4" fill="#454545" transform="rotate(126 1699.5 500.7)"/><ellipse cx="1450.2" cy="320.5" rx="2.0" ry="6.7" fill="#454545" transform="rotate(151 1450.2 320.5)"/><ellipse cx="1545.3" cy="552.9" rx="2.1" ry="7.2" fill="#505050" transform="rotate(77 1545.3 552.9)"/><ellipse cx="1773.8" cy="619.1" rx="1.4" ry="4.8" fill="#3a3a3a" transform="rotate(4 1773.8 619.1)"/><ellipse cx="1364.0" cy="654.5" rx="2.5" ry="7.0" fill="#3a3a3a" transform="rotate(92 1364.0 654.5)"/><ellipse cx="1552.5" cy="748.5" rx="1.2" ry="6.6" fill="#454545" transform="rotate(61 1552.5 748.5)"/><ellipse cx="1714.4" cy="438.2" rx="1.8" ry="5.6" fill="#454545" transform="rotate(51 1714.4 438.2)"/><ellipse cx="1491.2" cy="371.3" rx="1.3" ry="4.4" fill="#505050" transform="rotate(149 1491.2 371.3)"/><ellipse cx="1517.7" cy="518.5" rx="1.6" ry="5.5" fill="#454545" transform="rotate(118 1517.7 518.5)"/><ellipse cx="1684.4" cy="417.6" rx="1.6" ry="4.5" fill="#3a3a3a" transform="rotate(141 1684.4 417.6)"/><ellipse cx="1361.5" cy="646.4" rx="2.4" ry="5.7" fill="#3a3a3a" transform="rotate(72 1361.5 646.4)"/><ellipse cx="1390.9" cy="251.5" rx="2.3" ry="5.4" fill="#3a3a3a" transform="rotate(142 1390.9 251.5)"/><ellipse cx="1735.1" cy="581.6" rx="2.0" ry="6.1" fill="#3a3a3a" transform="rotate(38 1735.1 581.6)"/><ellipse cx="1630.8" cy="491.8" rx="2.2" ry="3.5" fill="#454545" transform="rotate(156 1630.8 491.8)"/><ellipse cx="1525.4" cy="283.1" rx="2.4" ry="3.1" fill="#454545" transform="rotate(142 1525.4 283.1)"/><ellipse cx="1585.7" cy="375.0" rx="1.6" ry="5.1" fill="#505050" transform="rotate(4 1585.7 375.0)"/><ellipse cx="1587.5" cy="562.1" rx="2.4" ry="5.5" fill="#3a3a3a" transform="rotate(148 1587.5 562.1)"/><ellipse cx="1676.6" cy="470.3" rx="2.1" ry="5.0" fill="#3a3a3a" transform="rotate(3 1676.6 470.3)"/><ellipse cx="1510.6" cy="570.1" rx="2.4" ry="7.9" fill="#5a5a5a" transform="rotate(139 1510.6 570.1)"/><ellipse cx="1580.0" cy="272.8" rx="1.8" ry="7.5" fill="#3a3a3a" transform="rotate(77 1580.0 272.8)"/><ellipse cx="1348.3" cy="615.2" rx="2.5" ry="7.3" fill="#454545" transform="rotate(157 1348.3 615.2)"/><ellipse cx="1399.7" cy="234.8" rx="2.1" ry="4.2" fill="#454545" transform="rotate(166 1399.7 234.8)"/><ellipse cx="1501.4" cy="660.7" rx="2.1" ry="3.7" fill="#3a3a3a" transform="rotate(53 1501.4 660.7)"/><ellipse cx="1583.7" cy="515.2" rx="2.1" ry="7.5" fill="#3a3a3a" transform="rotate(129 1583.7 515.2)"/><ellipse cx="1349.2" cy="233.0" rx="2.0" ry="7.1" fill="#3a3a3a" transform="rotate(70 1349.2 233.0)"/><ellipse cx="1478.5" cy="574.8" rx="2.4" ry="7.2" fill="#3a3a3a" transform="rotate(57 1478.5 574.8)"/><ellipse cx="1751.8" cy="649.3" rx="1.8" ry="3.8" fill="#3a3a3a" transform="rotate(65 1751.8 649.3)"/><ellipse cx="1621.3" cy="592.1" rx="1.7" ry="4.9" fill="#5a5a5a" transform="rotate(170 1621.3 592.1)"/><ellipse cx="1681.3" cy="555.4" rx="1.6" ry="3.3" fill="#505050" transform="rotate(157 1681.3 555.4)"/><ellipse cx="1656.0" cy="233.5" rx="1.4" ry="7.2" fill="#5a5a5a" transform="rotate(176 1656.0 233.5)"/><ellipse cx="1450.0" cy="450.6" rx="1.7" ry="6.9" fill="#454545" transform="rotate(145 1450.0 450.6)"/><ellipse cx="1466.0" cy="225.4" rx="1.5" ry="5.1" fill="#3a3a3a" transform="rotate(52 1466.0 225.4)"/><ellipse cx="1404.7" cy="744.4" rx="2.5" ry="3.7" fill="#5a5a5a" transform="rotate(62 1404.7 744.4)"/><ellipse cx="1380.8" cy="547.7" rx="2.2" ry="4.0" fill="#454545" transform="rotate(56 1380.8 547.7)"/><ellipse cx="1369.0" cy="455.3" rx="2.1" ry="7.6" fill="#3a3a3a" transform="rotate(142 1369.0 455.3)"/><ellipse cx="1541.7" cy="275.6" rx="2.2" ry="6.9" fill="#454545" transform="rotate(72 1541.7 275.6)"/><ellipse cx="1568.1" cy="375.9" rx="2.3" ry="4.6" fill="#454545" transform="rotate(34 1568.1 375.9)"/><ellipse cx="1426.9" cy="329.9" rx="2.1" ry="4.8" fill="#505050" transform="rotate(72 1426.9 329.9)"/><ellipse cx="1566.4" cy="311.4" rx="1.3" ry="8.0" fill="#505050" transform="rotate(156 1566.4 311.4)"/><ellipse cx="1503.9" cy="495.0" rx="1.3" ry="4.6" fill="#3a3a3a" transform="rotate(62 1503.9 495.0)"/><ellipse cx="1567.4" cy="236.4" rx="1.2" ry="8.0" fill="#5a5a5a" transform="rotate(106 1567.4 236.4)"/><ellipse cx="1436.0" cy="764.8" rx="1.6" ry="3.5" fill="#5a5a5a" transform="rotate(138 1436.0 764.8)"/><ellipse cx="1696.0" cy="787.0" rx="1.5" ry="3.2" fill="#454545" transform="rotate(179 1696.0 787.0)"/><ellipse cx="1506.7" cy="240.5" rx="1.2" ry="4.8" fill="#5a5a5a" transform="rotate(88 1506.7 240.5)"/><ellipse cx="1707.5" cy="746.9" rx="2.3" ry="6.2" fill="#3a3a3a" transform="rotate(127 1707.5 746.9)"/><ellipse cx="1382.9" cy="410.5" rx="1.5" ry="3.4" fill="#5a5a5a" transform="rotate(33 1382.9 410.5)"/><ellipse cx="1709.2" cy="441.0" rx="1.5" ry="6.6" fill="#454545" transform="rotate(7 1709.2 441.0)"/><ellipse cx="1454.2" cy="429.9" rx="2.4" ry="7.5" fill="#3a3a3a" transform="rotate(46 1454.2 429.9)"/><ellipse cx="1564.8" cy="656.2" rx="2.2" ry="5.4" fill="#3a3a3a" transform="rotate(26 1564.8 656.2)"/><ellipse cx="1668.6" cy="772.9" rx="2.1" ry="4.5" fill="#5a5a5a" transform="rotate(136 1668.6 772.9)"/><ellipse cx="1389.6" cy="413.5" rx="1.5" ry="3.6" fill="#5a5a5a" transform="rotate(68 1389.6 413.5)"/><ellipse cx="1533.9" cy="695.9" rx="2.4" ry="7.5" fill="#5a5a5a" transform="rotate(129 1533.9 695.9)"/><ellipse cx="1428.1" cy="245.4" rx="2.4" ry="4.1" fill="#505050" transform="rotate(160 1428.1 245.4)"/><ellipse cx="1404.3" cy="485.5" rx="1.3" ry="7.6" fill="#3a3a3a" transform="rotate(113 1404.3 485.5)"/><ellipse cx="1538.6" cy="422.8" rx="2.3" ry="5.4" fill="#505050" transform="rotate(26 1538.6 422.8)"/><ellipse cx="1439.5" cy="257.5" rx="2.1" ry="5.8" fill="#454545" transform="rotate(79 1439.5 257.5)"/><ellipse cx="1408.5" cy="468.6" rx="1.5" ry="3.1" fill="#505050" transform="rotate(60 1408.5 468.6)"/><ellipse cx="1416.4" cy="511.1" rx="1.6" ry="7.5" fill="#3a3a3a" transform="rotate(28 1416.4 511.1)"/><ellipse cx="1564.8" cy="592.8" rx="2.2" ry="7.6" fill="#5a5a5a" transform="rotate(150 1564.8 592.8)"/><ellipse cx="1395.5" cy="665.2" rx="2.5" ry="5.2" fill="#505050" transform="rotate(180 1395.5 665.2)"/><ellipse cx="1741.6" cy="281.4" rx="1.6" ry="7.5" fill="#3a3a3a" transform="rotate(150 1741.6 281.4)"/><ellipse cx="1764.6" cy="308.7" rx="2.0" ry="5.2" fill="#505050" transform="rotate(92 1764.6 308.7)"/><ellipse cx="1534.6" cy="685.4" rx="2.4" ry="4.4" fill="#505050" transform="rotate(78 1534.6 685.4)"/><ellipse cx="1736.0" cy="351.8" rx="1.9" ry="3.7" fill="#454545" transform="rotate(94 1736.0 351.8)"/><ellipse cx="1443.3" cy="326.9" rx="2.0" ry="7.1" fill="#5a5a5a" transform="rotate(137 1443.3 326.9)"/><ellipse cx="1419.6" cy="304.4" rx="2.1" ry="6.1" fill="#454545" transform="rotate(105 1419.6 304.4)"/><ellipse cx="1431.2" cy="262.8" rx="2.2" ry="5.0" fill="#3a3a3a" transform="rotate(93 1431.2 262.8)"/><ellipse cx="1493.6" cy="388.9" rx="2.0" ry="7.7" fill="#3a3a3a" transform="rotate(3 1493.6 388.9)"/><ellipse cx="1735.2" cy="502.7" rx="2.3" ry="4.3" fill="#454545" transform="rotate(101 1735.2 502.7)"/><ellipse cx="1767.7" cy="245.8" rx="2.1" ry="5.9" fill="#3a3a3a" transform="rotate(64 1767.7 245.8)"/><ellipse cx="1744.6" cy="790.0" rx="1.3" ry="4.8" fill="#454545" transform="rotate(147 1744.6 790.0)"/><ellipse cx="1716.0" cy="411.8" rx="2.1" ry="4.9" fill="#3a3a3a" transform="rotate(52 1716.0 411.8)"/><ellipse cx="1390.6" cy="651.2" rx="1.8" ry="3.1" fill="#454545" transform="rotate(4 1390.6 651.2)"/><ellipse cx="1759.8" cy="355.0" rx="1.4" ry="3.5" fill="#505050" transform="rotate(100 1759.8 355.0)"/><ellipse cx="1754.6" cy="235.8" rx="2.4" ry="6.7" fill="#505050" transform="rotate(3 1754.6 235.8)"/><ellipse cx="1601.7" cy="561.0" rx="1.9" ry="6.5" fill="#3a3a3a" transform="rotate(63 1601.7 561.0)"/><ellipse cx="1384.6" cy="328.9" rx="1.6" ry="5.3" fill="#505050" transform="rotate(20 1384.6 328.9)"/><ellipse cx="1396.5" cy="740.8" rx="1.9" ry="4.1" fill="#454545" transform="rotate(26 1396.5 740.8)"/><ellipse cx="1590.3" cy="660.3" rx="1.4" ry="7.1" fill="#5a5a5a" transform="rotate(125 1590.3 660.3)"/><ellipse cx="1600.7" cy="576.4" rx="1.2" ry="7.9" fill="#3a3a3a" transform="rotate(140 1600.7 576.4)"/><ellipse cx="1489.7" cy="364.8" rx="1.6" ry="5.2" fill="#505050" transform="rotate(147 1489.7 364.8)"/><ellipse cx="1708.4" cy="255.7" rx="1.9" ry="7.8" fill="#505050" transform="rotate(45 1708.4 255.7)"/><ellipse cx="1525.6" cy="593.8" rx="1.7" ry="5.7" fill="#3a3a3a" transform="rotate(58 1525.6 593.8)"/><ellipse cx="1430.5" cy="615.1" rx="1.5" ry="5.1" fill="#5a5a5a" transform="rotate(140 1430.5 615.1)"/><ellipse cx="1746.7" cy="594.1" rx="2.3" ry="7.4" fill="#3a3a3a" transform="rotate(6 1746.7 594.1)"/><ellipse cx="1619.9" cy="379.6" rx="2.1" ry="4.4" fill="#3a3a3a" transform="rotate(112 1619.9 379.6)"/><ellipse cx="1451.9" cy="528.2" rx="1.8" ry="7.8" fill="#505050" transform="rotate(20 1451.9 528.2)"/><ellipse cx="1493.6" cy="321.9" rx="1.3" ry="7.8" fill="#505050" transform="rotate(15 1493.6 321.9)"/><ellipse cx="1597.8" cy="768.6" rx="1.8" ry="5.6" fill="#505050" transform="rotate(165 1597.8 768.6)"/><ellipse cx="1592.3" cy="384.5" rx="2.2" ry="6.7" fill="#505050" transform="rotate(151 1592.3 384.5)"/><ellipse cx="1606.3" cy="557.3" rx="2.0" ry="4.0" fill="#505050" transform="rotate(83 1606.3 557.3)"/><ellipse cx="1579.7" cy="582.2" rx="1.8" ry="4.6" fill="#454545" transform="rotate(60 1579.7 582.2)"/><ellipse cx="1425.4" cy="543.2" rx="2.5" ry="5.0" fill="#505050" transform="rotate(29 1425.4 543.2)"/><ellipse cx="1753.2" cy="413.6" rx="1.6" ry="4.3" fill="#454545" transform="rotate(53 1753.2 413.6)"/><ellipse cx="1675.9" cy="317.0" rx="1.3" ry="7.4" fill="#5a5a5a" transform="rotate(118 1675.9 317.0)"/><ellipse cx="1566.3" cy="711.6" rx="1.7" ry="6.8" fill="#454545" transform="rotate(178 1566.3 711.6)"/><ellipse cx="1635.4" cy="769.7" rx="1.7" ry="6.3" fill="#454545" transform="rotate(122 1635.4 769.7)"/><ellipse cx="1609.0" cy="720.7" rx="2.3" ry="5.6" fill="#5a5a5a" transform="rotate(48 1609.0 720.7)"/><ellipse cx="1615.2" cy="593.5" rx="2.1" ry="5.1" fill="#3a3a3a" transform="rotate(1 1615.2 593.5)"/><ellipse cx="1673.2" cy="566.5" rx="1.8" ry="7.8" fill="#454545" transform="rotate(75 1673.2 566.5)"/><ellipse cx="1680.9" cy="734.0" rx="2.0" ry="4.9" fill="#5a5a5a" transform="rotate(125 1680.9 734.0)"/><ellipse cx="1468.0" cy="430.3" rx="1.7" ry="5.6" fill="#5a5a5a" transform="rotate(117 1468.0 430.3)"/><ellipse cx="1347.2" cy="659.9" rx="2.5" ry="4.9" fill="#505050" transform="rotate(33 1347.2 659.9)"/><ellipse cx="1474.9" cy="309.1" rx="1.9" ry="5.9" fill="#3a3a3a" transform="rotate(148 1474.9 309.1)"/><ellipse cx="1486.1" cy="790.2" rx="2.0" ry="4.2" fill="#505050" transform="rotate(37 1486.1 790.2)"/><ellipse cx="1527.5" cy="756.1" rx="1.2" ry="3.2" fill="#5a5a5a" transform="rotate(54 1527.5 756.1)"/><ellipse cx="1574.7" cy="406.8" rx="2.0" ry="5.2" fill="#5a5a5a" transform="rotate(70 1574.7 406.8)"/><ellipse cx="1497.9" cy="571.7" rx="1.7" ry="7.7" fill="#3a3a3a" transform="rotate(95 1497.9 571.7)"/><ellipse cx="1386.8" cy="443.0" rx="1.7" ry="5.8" fill="#454545" transform="rotate(158 1386.8 443.0)"/><ellipse cx="1758.5" cy="508.6" rx="1.8" ry="6.1" fill="#505050" transform="rotate(124 1758.5 508.6)"/><ellipse cx="1664.9" cy="278.3" rx="1.7" ry="4.8" fill="#3a3a3a" transform="rotate(149 1664.9 278.3)"/><ellipse cx="1564.5" cy="288.9" rx="2.4" ry="6.4" fill="#5a5a5a" transform="rotate(114 1564.5 288.9)"/><ellipse cx="1569.4" cy="701.0" rx="1.5" ry="7.5" fill="#5a5a5a" transform="rotate(33 1569.4 701.0)"/><ellipse cx="1614.9" cy="576.6" rx="1.7" ry="8.0" fill="#3a3a3a" transform="rotate(125 1614.9 576.6)"/><ellipse cx="1348.9" cy="226.0" rx="2.1" ry="5.8" fill="#505050" transform="rotate(72 1348.9 226.0)"/><ellipse cx="1386.6" cy="233.4" rx="1.2" ry="3.9" fill="#505050" transform="rotate(157 1386.6 233.4)"/><ellipse cx="1728.9" cy="524.7" rx="1.4" ry="4.0" fill="#3a3a3a" transform="rotate(26 1728.9 524.7)"/><ellipse cx="1567.0" cy="521.9" rx="1.2" ry="3.4" fill="#5a5a5a" transform="rotate(148 1567.0 521.9)"/><ellipse cx="1607.6" cy="695.4" rx="1.3" ry="3.1" fill="#505050" transform="rotate(26 1607.6 695.4)"/><ellipse cx="1446.6" cy="385.2" rx="1.2" ry="6.1" fill="#3a3a3a" transform="rotate(63 1446.6 385.2)"/><ellipse cx="1537.5" cy="449.6" rx="1.3" ry="7.5" fill="#3a3a3a" transform="rotate(79 1537.5 449.6)"/><ellipse cx="1610.7" cy="370.0" rx="1.3" ry="7.7" fill="#454545" transform="rotate(57 1610.7 370.0)"/><ellipse cx="1730.4" cy="700.8" rx="1.6" ry="6.0" fill="#5a5a5a" transform="rotate(176 1730.4 700.8)"/><ellipse cx="1373.3" cy="619.9" rx="2.1" ry="5.9" fill="#5a5a5a" transform="rotate(56 1373.3 619.9)"/><ellipse cx="1720.2" cy="507.2" rx="2.2" ry="4.2" fill="#454545" transform="rotate(31 1720.2 507.2)"/><ellipse cx="1507.1" cy="228.9" rx="2.3" ry="5.0" fill="#505050" transform="rotate(21 1507.1 228.9)"/><ellipse cx="1573.5" cy="449.6" rx="1.7" ry="3.3" fill="#3a3a3a" transform="rotate(76 1573.5 449.6)"/><ellipse cx="1736.4" cy="547.8" rx="1.7" ry="5.3" fill="#505050" transform="rotate(43 1736.4 547.8)"/><ellipse cx="1359.3" cy="612.3" rx="1.6" ry="3.8" fill="#454545" transform="rotate(17 1359.3 612.3)"/><ellipse cx="1460.1" cy="712.0" rx="1.4" ry="5.2" fill="#454545" transform="rotate(29 1460.1 712.0)"/><ellipse cx="1495.9" cy="646.2" rx="1.7" ry="7.8" fill="#454545" transform="rotate(54 1495.9 646.2)"/><ellipse cx="1548.7" cy="343.8" rx="2.3" ry="6.4" fill="#505050" transform="rotate(107 1548.7 343.8)"/><ellipse cx="1533.4" cy="802.4" rx="1.9" ry="5.0" fill="#454545" transform="rotate(23 1533.4 802.4)"/><ellipse cx="1666.7" cy="620.2" rx="1.3" ry="7.3" fill="#5a5a5a" transform="rotate(5 1666.7 620.2)"/><ellipse cx="1652.8" cy="309.1" rx="1.2" ry="6.6" fill="#454545" transform="rotate(140 1652.8 309.1)"/><ellipse cx="1443.8" cy="334.4" rx="2.4" ry="3.3" fill="#505050" transform="rotate(145 1443.8 334.4)"/><ellipse cx="1670.1" cy="337.0" rx="2.1" ry="3.4" fill="#505050" transform="rotate(23 1670.1 337.0)"/><ellipse cx="1652.1" cy="389.3" rx="1.7" ry="7.5" fill="#454545" transform="rotate(169 1652.1 389.3)"/><ellipse cx="1420.1" cy="438.4" rx="2.2" ry="6.5" fill="#5a5a5a" transform="rotate(5 1420.1 438.4)"/><ellipse cx="1646.6" cy="494.5" rx="2.5" ry="5.0" fill="#3a3a3a" transform="rotate(33 1646.6 494.5)"/><ellipse cx="1393.8" cy="757.3" rx="2.2" ry="6.6" fill="#3a3a3a" transform="rotate(73 1393.8 757.3)"/><ellipse cx="1605.7" cy="475.9" rx="2.2" ry="3.8" fill="#3a3a3a" transform="rotate(99 1605.7 475.9)"/><ellipse cx="1614.7" cy="774.2" rx="1.9" ry="4.1" fill="#5a5a5a" transform="rotate(129 1614.7 774.2)"/><ellipse cx="1453.7" cy="478.4" rx="2.1" ry="4.7" fill="#3a3a3a" transform="rotate(20 1453.7 478.4)"/><ellipse cx="1672.3" cy="607.1" rx="2.4" ry="7.4" fill="#3a3a3a" transform="rotate(175 1672.3 607.1)"/><ellipse cx="1636.8" cy="246.1" rx="1.6" ry="6.9" fill="#505050" transform="rotate(135 1636.8 246.1)"/><ellipse cx="1381.3" cy="630.0" rx="1.7" ry="6.7" fill="#454545" transform="rotate(51 1381.3 630.0)"/><ellipse cx="1382.9" cy="777.0" rx="1.8" ry="7.7" fill="#5a5a5a" transform="rotate(92 1382.9 777.0)"/><ellipse cx="1634.9" cy="344.7" rx="2.1" ry="7.2" fill="#454545" transform="rotate(88 1634.9 344.7)"/><ellipse cx="1425.6" cy="780.4" rx="2.3" ry="5.8" fill="#454545" transform="rotate(98 1425.6 780.4)"/><ellipse cx="1760.7" cy="596.6" rx="1.9" ry="4.2" fill="#3a3a3a" transform="rotate(30 1760.7 596.6)"/><ellipse cx="1493.4" cy="278.4" rx="2.0" ry="3.7" fill="#5a5a5a" transform="rotate(121 1493.4 278.4)"/><ellipse cx="1446.5" cy="365.5" rx="1.9" ry="5.2" fill="#505050" transform="rotate(126 1446.5 365.5)"/><ellipse cx="1401.6" cy="637.6" rx="2.0" ry="4.2" fill="#3a3a3a" transform="rotate(99 1401.6 637.6)"/><ellipse cx="1670.9" cy="323.2" rx="2.1" ry="6.0" fill="#5a5a5a" transform="rotate(151 1670.9 323.2)"/><ellipse cx="1518.7" cy="344.9" rx="2.1" ry="3.1" fill="#5a5a5a" transform="rotate(37 1518.7 344.9)"/><ellipse cx="1370.2" cy="388.4" rx="1.5" ry="6.5" fill="#5a5a5a" transform="rotate(173 1370.2 388.4)"/><ellipse cx="1413.6" cy="484.3" rx="1.9" ry="4.4" fill="#3a3a3a" transform="rotate(8 1413.6 484.3)"/><ellipse cx="1545.5" cy="796.5" rx="1.8" ry="6.7" fill="#505050" transform="rotate(176 1545.5 796.5)"/><ellipse cx="1586.4" cy="287.9" rx="1.8" ry="5.2" fill="#454545" transform="rotate(141 1586.4 287.9)"/><ellipse cx="1482.5" cy="434.2" rx="1.3" ry="4.4" fill="#505050" transform="rotate(118 1482.5 434.2)"/><ellipse cx="1377.9" cy="660.8" rx="1.2" ry="5.0" fill="#454545" transform="rotate(53 1377.9 660.8)"/><ellipse cx="1424.1" cy="597.0" rx="2.3" ry="7.6" fill="#454545" transform="rotate(18 1424.1 597.0)"/><ellipse cx="1653.0" cy="405.6" rx="2.0" ry="4.9" fill="#505050" transform="rotate(58 1653.0 405.6)"/><ellipse cx="1502.6" cy="546.2" rx="1.7" ry="7.2" fill="#454545" transform="rotate(10 1502.6 546.2)"/><ellipse cx="1390.4" cy="693.1" rx="2.4" ry="8.0" fill="#5a5a5a" transform="rotate(163 1390.4 693.1)"/><ellipse cx="1750.1" cy="513.1" rx="1.8" ry="3.8" fill="#505050" transform="rotate(108 1750.1 513.1)"/><ellipse cx="1613.4" cy="307.2" rx="1.5" ry="3.7" fill="#5a5a5a" transform="rotate(16 1613.4 307.2)"/><ellipse cx="1361.5" cy="481.0" rx="1.4" ry="6.6" fill="#3a3a3a" transform="rotate(6 1361.5 481.0)"/><ellipse cx="1606.6" cy="711.1" rx="1.9" ry="3.7" fill="#3a3a3a" transform="rotate(119 1606.6 711.1)"/><ellipse cx="1565.3" cy="470.3" rx="1.6" ry="5.2" fill="#454545" transform="rotate(163 1565.3 470.3)"/><ellipse cx="1414.9" cy="397.1" rx="1.8" ry="5.8" fill="#505050" transform="rotate(102 1414.9 397.1)"/></g>
<g fill="#e4e4e4" opacity="0.75" filter="url(#tblur2)"><ellipse cx="1430.9" cy="293.9" rx="15.9" ry="16.8" transform="rotate(-14 1430.9 293.9)"/><ellipse cx="1370.7" cy="268.6" rx="12.9" ry="9.6" transform="rotate(12 1370.7 268.6)"/><ellipse cx="1364.7" cy="339.5" rx="22.8" ry="28.3" transform="rotate(3 1364.7 339.5)"/><ellipse cx="1518.8" cy="300.9" rx="21.7" ry="14.0" transform="rotate(-35 1518.8 300.9)"/><ellipse cx="1519.0" cy="262.8" rx="14.7" ry="15.9" transform="rotate(-37 1519.0 262.8)"/><ellipse cx="1503.7" cy="386.0" rx="15.9" ry="11.1" transform="rotate(-34 1503.7 386.0)"/><ellipse cx="1544.9" cy="370.1" rx="15.1" ry="19.1" transform="rotate(-6 1544.9 370.1)"/><ellipse cx="1411.3" cy="394.4" rx="14.0" ry="8.5" transform="rotate(10 1411.3 394.4)"/><ellipse cx="1410.7" cy="325.3" rx="14.0" ry="14.0" transform="rotate(6 1410.7 325.3)"/><ellipse cx="1389.6" cy="330.6" rx="9.6" ry="11.8" transform="rotate(38 1389.6 330.6)"/><ellipse cx="1565.2" cy="277.8" rx="15.1" ry="11.8" transform="rotate(11 1565.2 277.8)"/><ellipse cx="1580.7" cy="332.2" rx="16.2" ry="16.2" transform="rotate(4 1580.7 332.2)"/><ellipse cx="1565.5" cy="305.8" rx="10.7" ry="9.6" transform="rotate(-35 1565.5 305.8)"/><ellipse cx="1647.2" cy="303.3" rx="14.0" ry="14.0" transform="rotate(14 1647.2 303.3)"/><ellipse cx="1680.6" cy="265.3" rx="14.0" ry="20.6" transform="rotate(-15 1680.6 265.3)"/><ellipse cx="1707.7" cy="266.7" rx="9.6" ry="10.7" transform="rotate(-4 1707.7 266.7)"/><ellipse cx="1728.0" cy="267.3" rx="10.7" ry="8.0" transform="rotate(24 1728.0 267.3)"/><ellipse cx="1697.8" cy="323.2" rx="9.6" ry="9.6" transform="rotate(-20 1697.8 323.2)"/><ellipse cx="1715.5" cy="331.4" rx="12.9" ry="12.9" transform="rotate(2 1715.5 331.4)"/><ellipse cx="1699.1" cy="362.2" rx="18.4" ry="14.0" transform="rotate(18 1699.1 362.2)"/><ellipse cx="1733.0" cy="377.6" rx="16.8" ry="16.8" transform="rotate(38 1733.0 377.6)"/><ellipse cx="1693.9" cy="395.9" rx="11.3" ry="12.9" transform="rotate(-7 1693.9 395.9)"/><ellipse cx="1610.1" cy="377.7" rx="9.6" ry="8.0" transform="rotate(-28 1610.1 377.7)"/><ellipse cx="1752.1" cy="231.3" rx="14.0" ry="10.7" transform="rotate(-37 1752.1 231.3)"/><ellipse cx="1768.8" cy="327.4" rx="5.2" ry="11.8" transform="rotate(16 1768.8 327.4)"/><ellipse cx="1608.1" cy="417.2" rx="11.8" ry="9.6" transform="rotate(6 1608.1 417.2)"/><ellipse cx="1395.1" cy="506.4" rx="14.0" ry="16.2" transform="rotate(-35 1395.1 506.4)"/><ellipse cx="1394.8" cy="537.9" rx="9.6" ry="9.6" transform="rotate(12 1394.8 537.9)"/><ellipse cx="1396.0" cy="555.9" rx="9.6" ry="11.3" transform="rotate(26 1396.0 555.9)"/><ellipse cx="1362.1" cy="573.8" rx="12.9" ry="14.0" transform="rotate(-9 1362.1 573.8)"/><ellipse cx="1433.6" cy="482.0" rx="8.5" ry="12.9" transform="rotate(-38 1433.6 482.0)"/><ellipse cx="1415.3" cy="454.6" rx="10.7" ry="6.3" transform="rotate(-27 1415.3 454.6)"/><ellipse cx="1480.5" cy="451.3" rx="9.6" ry="8.0" transform="rotate(-35 1480.5 451.3)"/><ellipse cx="1510.7" cy="486.4" rx="15.1" ry="20.6" transform="rotate(-30 1510.7 486.4)"/><ellipse cx="1543.2" cy="474.3" rx="9.6" ry="15.1" transform="rotate(-9 1543.2 474.3)"/><ellipse cx="1505.7" cy="580.0" rx="13.5" ry="15.1" transform="rotate(4 1505.7 580.0)"/><ellipse cx="1552.5" cy="558.1" rx="11.3" ry="18.4" transform="rotate(26 1552.5 558.1)"/><ellipse cx="1383.1" cy="609.8" rx="11.8" ry="9.6" transform="rotate(-18 1383.1 609.8)"/><ellipse cx="1608.3" cy="425.3" rx="12.9" ry="11.8" transform="rotate(37 1608.3 425.3)"/><ellipse cx="1702.7" cy="451.7" rx="12.9" ry="11.3" transform="rotate(-26 1702.7 451.7)"/><ellipse cx="1613.7" cy="516.4" rx="16.8" ry="16.8" transform="rotate(-21 1613.7 516.4)"/><ellipse cx="1630.0" cy="498.0" rx="13.5" ry="12.9" transform="rotate(7 1630.0 498.0)"/><ellipse cx="1577.9" cy="523.0" rx="14.0" ry="12.9" transform="rotate(-40 1577.9 523.0)"/><ellipse cx="1566.2" cy="544.4" rx="8.5" ry="18.4" transform="rotate(-10 1566.2 544.4)"/><ellipse cx="1557.2" cy="557.7" rx="6.3" ry="17.3" transform="rotate(36 1557.2 557.7)"/><ellipse cx="1646.1" cy="503.4" rx="10.2" ry="10.2" transform="rotate(1 1646.1 503.4)"/><ellipse cx="1694.3" cy="503.9" rx="16.8" ry="15.1" transform="rotate(14 1694.3 503.9)"/><ellipse cx="1723.2" cy="496.9" rx="12.9" ry="14.0" transform="rotate(32 1723.2 496.9)"/><ellipse cx="1746.5" cy="504.2" rx="15.1" ry="14.0" transform="rotate(30 1746.5 504.2)"/><ellipse cx="1716.8" cy="543.5" rx="15.1" ry="13.5" transform="rotate(-9 1716.8 543.5)"/><ellipse cx="1686.8" cy="527.8" rx="11.3" ry="14.0" transform="rotate(-32 1686.8 527.8)"/><ellipse cx="1697.1" cy="569.1" rx="16.8" ry="14.0" transform="rotate(-35 1697.1 569.1)"/><ellipse cx="1748.4" cy="548.3" rx="11.8" ry="8.5" transform="rotate(-23 1748.4 548.3)"/><ellipse cx="1739.1" cy="560.2" rx="9.6" ry="11.3" transform="rotate(-13 1739.1 560.2)"/><ellipse cx="1750.0" cy="526.5" rx="10.7" ry="9.6" transform="rotate(-40 1750.0 526.5)"/><ellipse cx="1641.9" cy="593.0" rx="18.4" ry="16.8" transform="rotate(-32 1641.9 593.0)"/><ellipse cx="1701.0" cy="591.5" rx="15.1" ry="11.3" transform="rotate(-38 1701.0 591.5)"/><ellipse cx="1619.8" cy="607.5" rx="10.7" ry="9.6" transform="rotate(9 1619.8 607.5)"/><ellipse cx="1590.1" cy="609.0" rx="9.6" ry="8.5" transform="rotate(-20 1590.1 609.0)"/><ellipse cx="1769.0" cy="482.9" rx="7.4" ry="10.7" transform="rotate(-11 1769.0 482.9)"/><ellipse cx="1762.4" cy="419.2" rx="9.6" ry="7.4" transform="rotate(28 1762.4 419.2)"/><ellipse cx="1770.6" cy="589.8" rx="6.3" ry="11.8" transform="rotate(-33 1770.6 589.8)"/><ellipse cx="1386.1" cy="620.7" rx="14.0" ry="12.9" transform="rotate(-13 1386.1 620.7)"/><ellipse cx="1416.3" cy="714.4" rx="19.5" ry="18.4" transform="rotate(26 1416.3 714.4)"/><ellipse cx="1444.6" cy="681.7" rx="14.0" ry="16.8" transform="rotate(-38 1444.6 681.7)"/><ellipse cx="1477.2" cy="650.6" rx="15.1" ry="14.0" transform="rotate(2 1477.2 650.6)"/><ellipse cx="1525.7" cy="700.0" rx="11.8" ry="11.3" transform="rotate(3 1525.7 700.0)"/><ellipse cx="1550.3" cy="657.4" rx="13.5" ry="15.1" transform="rotate(2 1550.3 657.4)"/><ellipse cx="1472.4" cy="719.5" rx="14.0" ry="18.4" transform="rotate(29 1472.4 719.5)"/><ellipse cx="1374.9" cy="754.7" rx="21.7" ry="16.8" transform="rotate(-19 1374.9 754.7)"/><ellipse cx="1419.8" cy="771.4" rx="20.6" ry="19.0" transform="rotate(-27 1419.8 771.4)"/><ellipse cx="1349.1" cy="775.8" rx="9.6" ry="17.3" transform="rotate(3 1349.1 775.8)"/><ellipse cx="1511.0" cy="774.0" rx="10.7" ry="12.9" transform="rotate(-14 1511.0 774.0)"/><ellipse cx="1547.4" cy="758.8" rx="16.2" ry="14.0" transform="rotate(25 1547.4 758.8)"/><ellipse cx="1553.2" cy="619.1" rx="8.5" ry="9.6" transform="rotate(-12 1553.2 619.1)"/><ellipse cx="1492.6" cy="726.7" rx="7.4" ry="6.3" transform="rotate(-19 1492.6 726.7)"/><ellipse cx="1541.6" cy="783.4" rx="9.6" ry="10.7" transform="rotate(35 1541.6 783.4)"/><ellipse cx="1602.9" cy="640.4" rx="21.7" ry="16.8" transform="rotate(36 1602.9 640.4)"/><ellipse cx="1639.2" cy="640.9" rx="16.8" ry="16.8" transform="rotate(-22 1639.2 640.9)"/><ellipse cx="1599.0" cy="620.6" rx="16.2" ry="9.6" transform="rotate(-24 1599.0 620.6)"/><ellipse cx="1602.9" cy="675.3" rx="11.8" ry="9.6" transform="rotate(10 1602.9 675.3)"/><ellipse cx="1651.1" cy="706.5" rx="25.0" ry="19.0" transform="rotate(12 1651.1 706.5)"/><ellipse cx="1687.0" cy="698.0" rx="20.6" ry="16.8" transform="rotate(-33 1687.0 698.0)"/><ellipse cx="1678.3" cy="678.9" rx="13.5" ry="8.5" transform="rotate(33 1678.3 678.9)"/><ellipse cx="1757.0" cy="668.2" rx="15.1" ry="14.0" transform="rotate(20 1757.0 668.2)"/><ellipse cx="1759.5" cy="637.0" rx="16.8" ry="16.8" transform="rotate(-26 1759.5 637.0)"/><ellipse cx="1687.2" cy="625.5" rx="6.3" ry="12.9" transform="rotate(-13 1687.2 625.5)"/><ellipse cx="1578.0" cy="741.4" rx="14.0" ry="16.8" transform="rotate(38 1578.0 741.4)"/><ellipse cx="1600.3" cy="740.9" rx="11.8" ry="14.0" transform="rotate(-8 1600.3 740.9)"/><ellipse cx="1561.8" cy="749.2" rx="9.6" ry="16.2" transform="rotate(18 1561.8 749.2)"/><ellipse cx="1756.8" cy="746.9" rx="11.8" ry="9.6" transform="rotate(32 1756.8 746.9)"/><ellipse cx="1710.1" cy="787.6" rx="11.8" ry="10.7" transform="rotate(38 1710.1 787.6)"/><ellipse cx="1683.3" cy="793.1" rx="9.6" ry="9.6" transform="rotate(-12 1683.3 793.1)"/><ellipse cx="1643.8" cy="792.4" rx="11.8" ry="10.7" transform="rotate(-30 1643.8 792.4)"/><ellipse cx="1623.2" cy="793.5" rx="9.6" ry="9.6" transform="rotate(38 1623.2 793.5)"/><ellipse cx="1600.2" cy="791.4" rx="8.5" ry="9.6" transform="rotate(2 1600.2 791.4)"/><ellipse cx="1758.9" cy="801.0" rx="11.8" ry="7.4" transform="rotate(-5 1758.9 801.0)"/><ellipse cx="1714.5" cy="763.8" rx="9.6" ry="8.5" transform="rotate(26 1714.5 763.8)"/><ellipse cx="1555.9" cy="655.3" rx="5.2" ry="11.8" transform="rotate(-20 1555.9 655.3)"/></g>
<g filter="url(#tblur)" opacity="0.92"><ellipse cx="1429.7" cy="292.3" rx="15.1" ry="16.0" fill="#141414" transform="rotate(-14 1429.7 292.3)"/><ellipse cx="1368.9" cy="267.7" rx="12.1" ry="8.8" fill="#242424" transform="rotate(12 1368.9 267.7)"/><ellipse cx="1366.0" cy="338.0" rx="22.0" ry="27.5" fill="#141414" transform="rotate(3 1366.0 338.0)"/><ellipse cx="1520.8" cy="301.0" rx="20.9" ry="13.2" fill="#141414" transform="rotate(-35 1520.8 301.0)"/><ellipse cx="1520.8" cy="262.0" rx="13.9" ry="15.1" fill="#242424" transform="rotate(-37 1520.8 262.0)"/><ellipse cx="1502.0" cy="384.9" rx="15.1" ry="10.3" fill="#141414" transform="rotate(-34 1502.0 384.9)"/><ellipse cx="1544.0" cy="371.9" rx="14.3" ry="18.3" fill="#141414" transform="rotate(-6 1544.0 371.9)"/><ellipse cx="1506.3" cy="361.7" rx="13.2" ry="12.7" fill="#3a3a3a" fill-opacity="0.7" transform="rotate(-30 1506.3 361.7)"/><ellipse cx="1409.4" cy="395.0" rx="13.2" ry="7.7" fill="#242424" transform="rotate(10 1409.4 395.0)"/><ellipse cx="1412.3" cy="324.1" rx="13.2" ry="13.2" fill="#242424" transform="rotate(6 1412.3 324.1)"/><ellipse cx="1387.7" cy="330.0" rx="8.8" ry="11.0" fill="#242424" transform="rotate(38 1387.7 330.0)"/><ellipse cx="1470.0" cy="280.7" rx="6.6" ry="6.6" fill="#3a3a3a" fill-opacity="0.7" transform="rotate(29 1470.0 280.7)"/><ellipse cx="1374.7" cy="238.8" rx="8.8" ry="6.6" fill="#3a3a3a" fill-opacity="0.7" transform="rotate(-28 1374.7 238.8)"/><ellipse cx="1409.4" cy="260.5" rx="17.6" ry="9.9" fill="#3a3a3a" fill-opacity="0.7" transform="rotate(-15 1409.4 260.5)"/><ellipse cx="1369.0" cy="376.0" rx="11.0" ry="9.9" fill="#3a3a3a" fill-opacity="0.7" transform="rotate(-26 1369.0 376.0)"/><ellipse cx="1566.6" cy="276.4" rx="14.3" ry="11.0" fill="#141414" transform="rotate(11 1566.6 276.4)"/><ellipse cx="1578.9" cy="331.4" rx="15.4" ry="15.4" fill="#141414" transform="rotate(4 1578.9 331.4)"/><ellipse cx="1565.0" cy="303.9" rx="9.9" ry="8.8" fill="#242424" transform="rotate(-35 1565.0 303.9)"/><ellipse cx="1649.0" cy="302.4" rx="13.2" ry="13.2" fill="#141414" transform="rotate(14 1649.0 302.4)"/><ellipse cx="1682.3" cy="266.3" rx="13.2" ry="19.8" fill="#141414" transform="rotate(-15 1682.3 266.3)"/><ellipse cx="1708.3" cy="264.8" rx="8.8" ry="9.9" fill="#242424" transform="rotate(-4 1708.3 264.8)"/><ellipse cx="1728.6" cy="269.2" rx="9.9" ry="7.2" fill="#242424" transform="rotate(24 1728.6 269.2)"/><ellipse cx="1699.6" cy="324.1" rx="8.8" ry="8.8" fill="#242424" transform="rotate(-20 1699.6 324.1)"/><ellipse cx="1714.1" cy="332.8" rx="12.1" ry="12.1" fill="#141414" transform="rotate(2 1714.1 332.8)"/><ellipse cx="1699.6" cy="360.3" rx="17.6" ry="13.2" fill="#141414" transform="rotate(18 1699.6 360.3)"/><ellipse cx="1731.5" cy="376.2" rx="16.0" ry="16.0" fill="#141414" transform="rotate(38 1731.5 376.2)"/><ellipse cx="1693.8" cy="397.9" rx="10.5" ry="12.1" fill="#242424" transform="rotate(-7 1693.8 397.9)"/><ellipse cx="1612.1" cy="377.6" rx="8.8" ry="7.2" fill="#141414" transform="rotate(-28 1612.1 377.6)"/><ellipse cx="1753.1" cy="233.0" rx="13.2" ry="9.9" fill="#242424" transform="rotate(-37 1753.1 233.0)"/><ellipse cx="1598.4" cy="241.7" rx="6.6" ry="15.4" fill="#3a3a3a" fill-opacity="0.7" transform="rotate(21 1598.4 241.7)"/><ellipse cx="1644.7" cy="361.7" rx="8.8" ry="6.6" fill="#3a3a3a" fill-opacity="0.7" transform="rotate(30 1644.7 361.7)"/><ellipse cx="1770.5" cy="328.5" rx="4.4" ry="11.0" fill="#242424" transform="rotate(16 1770.5 328.5)"/><ellipse cx="1610.0" cy="416.7" rx="11.0" ry="8.8" fill="#242424" transform="rotate(6 1610.0 416.7)"/><ellipse cx="1650.5" cy="403.7" rx="5.5" ry="7.7" fill="#3a3a3a" fill-opacity="0.7" transform="rotate(27 1650.5 403.7)"/><ellipse cx="1665.0" cy="383.0" rx="6.6" ry="11.0" fill="#3a3a3a" fill-opacity="0.7" transform="rotate(-2 1665.0 383.0)"/><ellipse cx="1395.7" cy="508.3" rx="13.2" ry="15.4" fill="#141414" transform="rotate(-35 1395.7 508.3)"/><ellipse cx="1392.8" cy="538.0" rx="8.8" ry="8.8" fill="#242424" transform="rotate(12 1392.8 538.0)"/><ellipse cx="1396.4" cy="553.9" rx="8.8" ry="10.5" fill="#242424" transform="rotate(26 1396.4 553.9)"/><ellipse cx="1363.1" cy="575.5" rx="12.1" ry="13.2" fill="#242424" transform="rotate(-9 1363.1 575.5)"/><ellipse cx="1435.5" cy="481.5" rx="7.7" ry="12.1" fill="#242424" transform="rotate(-38 1435.5 481.5)"/><ellipse cx="1413.8" cy="453.3" rx="9.9" ry="5.5" fill="#242424" transform="rotate(-27 1413.8 453.3)"/><ellipse cx="1480.3" cy="453.3" rx="8.8" ry="7.2" fill="#242424" transform="rotate(-35 1480.3 453.3)"/><ellipse cx="1510.7" cy="484.4" rx="14.3" ry="19.8" fill="#141414" transform="rotate(-30 1510.7 484.4)"/><ellipse cx="1541.8" cy="475.7" rx="8.8" ry="14.3" fill="#242424" transform="rotate(-9 1541.8 475.7)"/><ellipse cx="1496.9" cy="517.7" rx="8.8" ry="8.8" fill="#3a3a3a" fill-opacity="0.7" transform="rotate(-34 1496.9 517.7)"/><ellipse cx="1504.2" cy="581.3" rx="12.7" ry="14.3" fill="#242424" transform="rotate(4 1504.2 581.3)"/><ellipse cx="1551.2" cy="559.6" rx="10.5" ry="17.6" fill="#141414" transform="rotate(26 1551.2 559.6)"/><ellipse cx="1384.8" cy="608.8" rx="11.0" ry="8.8" fill="#141414" transform="rotate(-18 1384.8 608.8)"/><ellipse cx="1520.8" cy="520.6" rx="8.8" ry="11.0" fill="#3a3a3a" fill-opacity="0.7" transform="rotate(-11 1520.8 520.6)"/><ellipse cx="1607.1" cy="423.7" rx="12.1" ry="11.0" fill="#242424" transform="rotate(37 1607.1 423.7)"/><ellipse cx="1702.5" cy="449.7" rx="12.1" ry="10.5" fill="#242424" transform="rotate(-26 1702.5 449.7)"/><ellipse cx="1615.7" cy="516.2" rx="16.0" ry="16.0" fill="#141414" transform="rotate(-21 1615.7 516.2)"/><ellipse cx="1630.2" cy="496.0" rx="12.7" ry="12.1" fill="#242424" transform="rotate(7 1630.2 496.0)"/><ellipse cx="1579.6" cy="522.0" rx="13.2" ry="12.1" fill="#242424" transform="rotate(-40 1579.6 522.0)"/><ellipse cx="1568.0" cy="545.2" rx="7.7" ry="17.6" fill="#242424" transform="rotate(-10 1568.0 545.2)"/><ellipse cx="1557.9" cy="559.6" rx="5.5" ry="16.5" fill="#141414" transform="rotate(36 1557.9 559.6)"/><ellipse cx="1647.6" cy="504.7" rx="9.4" ry="9.4" fill="#242424" transform="rotate(1 1647.6 504.7)"/><ellipse cx="1692.4" cy="503.2" rx="16.0" ry="14.3" fill="#242424" transform="rotate(14 1692.4 503.2)"/><ellipse cx="1722.8" cy="498.9" rx="12.1" ry="13.2" fill="#141414" transform="rotate(32 1722.8 498.9)"/><ellipse cx="1745.9" cy="506.1" rx="14.3" ry="13.2" fill="#141414" transform="rotate(30 1745.9 506.1)"/><ellipse cx="1718.4" cy="542.3" rx="14.3" ry="12.7" fill="#141414" transform="rotate(-9 1718.4 542.3)"/><ellipse cx="1688.1" cy="529.3" rx="10.5" ry="13.2" fill="#242424" transform="rotate(-32 1688.1 529.3)"/><ellipse cx="1695.3" cy="568.3" rx="16.0" ry="13.2" fill="#242424" transform="rotate(-35 1695.3 568.3)"/><ellipse cx="1747.4" cy="546.6" rx="11.0" ry="7.7" fill="#242424" transform="rotate(-23 1747.4 546.6)"/><ellipse cx="1737.2" cy="559.6" rx="8.8" ry="10.5" fill="#242424" transform="rotate(-13 1737.2 559.6)"/><ellipse cx="1748.8" cy="524.9" rx="9.9" ry="8.8" fill="#242424" transform="rotate(-40 1748.8 524.9)"/><ellipse cx="1643.2" cy="591.5" rx="17.6" ry="16.0" fill="#141414" transform="rotate(-32 1643.2 591.5)"/><ellipse cx="1699.6" cy="592.9" rx="14.3" ry="10.5" fill="#242424" transform="rotate(-38 1699.6 592.9)"/><ellipse cx="1618.6" cy="605.9" rx="9.9" ry="8.8" fill="#242424" transform="rotate(9 1618.6 605.9)"/><ellipse cx="1591.2" cy="607.4" rx="8.8" ry="7.7" fill="#242424" transform="rotate(-20 1591.2 607.4)"/><ellipse cx="1767.6" cy="481.5" rx="6.6" ry="9.9" fill="#242424" transform="rotate(-11 1767.6 481.5)"/><ellipse cx="1760.4" cy="419.3" rx="8.8" ry="6.6" fill="#242424" transform="rotate(28 1760.4 419.3)"/><ellipse cx="1730.0" cy="430.9" rx="6.6" ry="6.6" fill="#3a3a3a" fill-opacity="0.7" transform="rotate(-3 1730.0 430.9)"/><ellipse cx="1769.0" cy="588.6" rx="5.5" ry="11.0" fill="#242424" transform="rotate(-33 1769.0 588.6)"/><ellipse cx="1386.3" cy="618.7" rx="13.2" ry="12.1" fill="#141414" transform="rotate(-13 1386.3 618.7)"/><ellipse cx="1415.2" cy="712.7" rx="18.7" ry="17.6" fill="#242424" transform="rotate(26 1415.2 712.7)"/><ellipse cx="1442.7" cy="682.3" rx="13.2" ry="16.0" fill="#242424" transform="rotate(-38 1442.7 682.3)"/><ellipse cx="1476.0" cy="649.0" rx="14.3" ry="13.2" fill="#242424" transform="rotate(2 1476.0 649.0)"/><ellipse cx="1523.7" cy="699.7" rx="11.0" ry="10.5" fill="#242424" transform="rotate(3 1523.7 699.7)"/><ellipse cx="1548.3" cy="657.7" rx="12.7" ry="14.3" fill="#242424" transform="rotate(2 1548.3 657.7)"/><ellipse cx="1473.1" cy="721.4" rx="13.2" ry="17.6" fill="#242424" transform="rotate(29 1473.1 721.4)"/><ellipse cx="1376.2" cy="753.2" rx="20.9" ry="16.0" fill="#141414" transform="rotate(-19 1376.2 753.2)"/><ellipse cx="1419.5" cy="773.4" rx="19.8" ry="18.2" fill="#242424" transform="rotate(-27 1419.5 773.4)"/><ellipse cx="1348.7" cy="777.8" rx="8.8" ry="16.5" fill="#141414" transform="rotate(3 1348.7 777.8)"/><ellipse cx="1510.7" cy="772.0" rx="9.9" ry="12.1" fill="#242424" transform="rotate(-14 1510.7 772.0)"/><ellipse cx="1545.4" cy="759.0" rx="15.4" ry="13.2" fill="#242424" transform="rotate(25 1545.4 759.0)"/><ellipse cx="1545.4" cy="732.9" rx="15.4" ry="9.9" fill="#3a3a3a" fill-opacity="0.7" transform="rotate(28 1545.4 732.9)"/><ellipse cx="1358.8" cy="653.4" rx="5.5" ry="13.2" fill="#3a3a3a" fill-opacity="0.7" transform="rotate(25 1358.8 653.4)"/><ellipse cx="1357.4" cy="733.0" rx="8.8" ry="8.8" fill="#3a3a3a" fill-opacity="0.7" transform="rotate(-22 1357.4 733.0)"/><ellipse cx="1551.2" cy="618.7" rx="7.7" ry="8.8" fill="#242424" transform="rotate(-12 1551.2 618.7)"/><ellipse cx="1493.3" cy="672.2" rx="5.5" ry="6.6" fill="#3a3a3a" fill-opacity="0.7" transform="rotate(-38 1493.3 672.2)"/><ellipse cx="1493.3" cy="728.6" rx="6.6" ry="5.5" fill="#242424" transform="rotate(-19 1493.3 728.6)"/><ellipse cx="1523.7" cy="795.1" rx="11.0" ry="11.0" fill="#3a3a3a" fill-opacity="0.7" transform="rotate(37 1523.7 795.1)"/><ellipse cx="1539.6" cy="783.6" rx="8.8" ry="9.9" fill="#242424" transform="rotate(35 1539.6 783.6)"/><ellipse cx="1604.2" cy="638.9" rx="20.9" ry="16.0" fill="#242424" transform="rotate(36 1604.2 638.9)"/><ellipse cx="1638.9" cy="638.9" rx="16.0" ry="16.0" fill="#242424" transform="rotate(-22 1638.9 638.9)"/><ellipse cx="1598.4" cy="618.7" rx="15.4" ry="8.8" fill="#242424" transform="rotate(-24 1598.4 618.7)"/><ellipse cx="1601.3" cy="676.5" rx="11.0" ry="8.8" fill="#242424" transform="rotate(10 1601.3 676.5)"/><ellipse cx="1585.4" cy="665.0" rx="7.7" ry="8.8" fill="#3a3a3a" fill-opacity="0.7" transform="rotate(27 1585.4 665.0)"/><ellipse cx="1650.5" cy="708.4" rx="24.2" ry="18.2" fill="#141414" transform="rotate(12 1650.5 708.4)"/><ellipse cx="1688.1" cy="699.7" rx="19.8" ry="16.0" fill="#141414" transform="rotate(-33 1688.1 699.7)"/><ellipse cx="1677.9" cy="680.9" rx="12.7" ry="7.7" fill="#141414" transform="rotate(33 1677.9 680.9)"/><ellipse cx="1759.0" cy="667.9" rx="14.3" ry="13.2" fill="#141414" transform="rotate(20 1759.0 667.9)"/><ellipse cx="1759.0" cy="638.9" rx="16.0" ry="16.0" fill="#242424" transform="rotate(-26 1759.0 638.9)"/><ellipse cx="1686.6" cy="627.4" rx="5.5" ry="12.1" fill="#242424" transform="rotate(-13 1686.6 627.4)"/><ellipse cx="1579.6" cy="740.2" rx="13.2" ry="16.0" fill="#242424" transform="rotate(38 1579.6 740.2)"/><ellipse cx="1598.4" cy="741.6" rx="11.0" ry="13.2" fill="#242424" transform="rotate(-8 1598.4 741.6)"/><ellipse cx="1560.8" cy="747.4" rx="8.8" ry="15.4" fill="#242424" transform="rotate(18 1560.8 747.4)"/><ellipse cx="1712.7" cy="683.8" rx="8.8" ry="6.6" fill="#3a3a3a" fill-opacity="0.7" transform="rotate(-30 1712.7 683.8)"/><ellipse cx="1756.1" cy="748.8" rx="11.0" ry="8.8" fill="#242424" transform="rotate(32 1756.1 748.8)"/><ellipse cx="1743.0" cy="769.1" rx="16.0" ry="13.2" fill="#3a3a3a" fill-opacity="0.7" transform="rotate(-28 1743.0 769.1)"/><ellipse cx="1711.2" cy="789.3" rx="11.0" ry="9.9" fill="#242424" transform="rotate(38 1711.2 789.3)"/><ellipse cx="1685.2" cy="793.7" rx="8.8" ry="8.8" fill="#242424" transform="rotate(-12 1685.2 793.7)"/><ellipse cx="1641.8" cy="792.2" rx="11.0" ry="9.9" fill="#242424" transform="rotate(-30 1641.8 792.2)"/><ellipse cx="1624.4" cy="795.1" rx="8.8" ry="8.8" fill="#242424" transform="rotate(38 1624.4 795.1)"/><ellipse cx="1598.4" cy="792.2" rx="7.7" ry="8.8" fill="#242424" transform="rotate(2 1598.4 792.2)"/><ellipse cx="1757.5" cy="802.4" rx="11.0" ry="6.6" fill="#242424" transform="rotate(-5 1757.5 802.4)"/><ellipse cx="1714.0" cy="761.9" rx="8.8" ry="7.7" fill="#242424" transform="rotate(26 1714.0 761.9)"/><ellipse cx="1556.4" cy="653.4" rx="4.4" ry="11.0" fill="#242424" transform="rotate(-20 1556.4 653.4)"/></g>
</g>
<rect x="1591" y="728" width="146" height="5.8" fill="#fff"/>
<text x="1589" y="783.8" font-family="Liberation Sans, sans-serif" font-size="46" fill="#fff" textLength="150.5" lengthAdjust="spacingAndGlyphs">200 nm</text>

<!-- legend -->
<g stroke-width="6.2" fill="none">
<line x1="569" y1="896.6" x2="671.6" y2="896.6" stroke="#ff0000"/>
<ellipse cx="620.3" cy="896.6" rx="20.4" ry="19.2" stroke="#ff0000" stroke-width="5.8" fill="#fff"/>
<line x1="569" y1="949.1" x2="671.6" y2="949.1" stroke="#ff0000"/>
<ellipse cx="623" cy="949.2" rx="23.1" ry="22.3" fill="#ff0000" stroke="none"/>
<line x1="572.5" y1="1003.3" x2="673.6" y2="1003.3" stroke="#008000"/>
<line x1="572.5" y1="1057.3" x2="674" y2="1057.3" stroke="#3a66ee" stroke-dasharray="25 18.3"/>
</g>
<g class="a" font-size="37.5" fill="#000">
<text x="699.8" y="904.8" textLength="811" lengthAdjust="spacingAndGlyphs">: <tspan font-style="italic">p</tspan>HEAAm/TiNP composite film (casted at 10 °C)</text>
<text x="699.8" y="958.8" textLength="811" lengthAdjust="spacingAndGlyphs">: <tspan font-style="italic">p</tspan>HEAAm/TiNP composite film (casted at 50 °C)</text>
<text x="701.4" y="1013.6" textLength="801.7" lengthAdjust="spacingAndGlyphs">: Theoretical refractive index (with no impurity)</text>
<text x="699.8" y="1067.8" textLength="1087.3" lengthAdjust="spacingAndGlyphs" style="white-space:pre">: Theoretical refractive index  (with 9.6 wt% of impurity<tspan font-size="25" dy="-15">a</tspan><tspan dy="15"> in TiNP)</tspan></text>
<text x="754.4" y="1122" textLength="961.8" lengthAdjust="spacingAndGlyphs"><tspan font-size="25" dy="-15">a</tspan><tspan dy="15">Impurity was determined by thermogravimetric analysis</tspan></text>
</g>
</svg>
</body></html>
